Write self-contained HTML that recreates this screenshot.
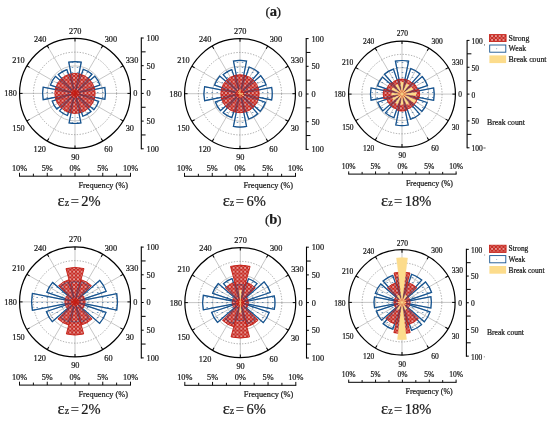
<!DOCTYPE html>
<html><head><meta charset="utf-8"><title>Rose diagrams</title>
<style>
html,body{margin:0;padding:0;background:#fff;}
svg{display:block;}
svg{font-family:"Liberation Serif", serif;font-size:8.3px;}
svg text{fill:#1a1a1a;stroke:#1a1a1a;stroke-width:0.22px;}
</style></head>
<body>
<svg width="550" height="422" viewBox="0 0 550 422">
<defs>
<pattern id="hatch" width="3.8" height="3.8" patternUnits="userSpaceOnUse">
<rect width="3.8" height="3.8" fill="#c41c13" fill-opacity="0.94"/>
<path d="M0.7,0.7L3.1,3.1M3.1,0.7L0.7,3.1" stroke="#fff" stroke-width="0.5" stroke-linecap="round"/>
</pattern>
<pattern id="dots" width="5" height="5" patternUnits="userSpaceOnUse">
<circle cx="2.5" cy="2.5" r="0.6" fill="#17548f"/>
</pattern>
</defs>
<rect width="550" height="422" fill="#fff"/>
<g transform="translate(75 0) scale(1.008 1) translate(-75 0)">
<line x1="75" y1="93.4" x2="130.00" y2="93.40" stroke="#c0c0c0" stroke-width="0.9"/>
<line x1="75" y1="93.4" x2="122.63" y2="120.90" stroke="#c0c0c0" stroke-width="0.9"/>
<line x1="75" y1="93.4" x2="102.50" y2="141.03" stroke="#c0c0c0" stroke-width="0.9"/>
<line x1="75" y1="93.4" x2="75.00" y2="148.40" stroke="#c0c0c0" stroke-width="0.9"/>
<line x1="75" y1="93.4" x2="47.50" y2="141.03" stroke="#c0c0c0" stroke-width="0.9"/>
<line x1="75" y1="93.4" x2="27.37" y2="120.90" stroke="#c0c0c0" stroke-width="0.9"/>
<line x1="75" y1="93.4" x2="20.00" y2="93.40" stroke="#c0c0c0" stroke-width="0.9"/>
<line x1="75" y1="93.4" x2="27.37" y2="65.90" stroke="#c0c0c0" stroke-width="0.9"/>
<line x1="75" y1="93.4" x2="47.50" y2="45.77" stroke="#c0c0c0" stroke-width="0.9"/>
<line x1="75" y1="93.4" x2="75.00" y2="38.40" stroke="#c0c0c0" stroke-width="0.9"/>
<line x1="75" y1="93.4" x2="102.50" y2="45.77" stroke="#c0c0c0" stroke-width="0.9"/>
<line x1="75" y1="93.4" x2="122.63" y2="65.90" stroke="#c0c0c0" stroke-width="0.9"/>
<circle cx="75" cy="93.4" r="27.50" fill="none" stroke="#c0c0c0" stroke-width="0.9"/>
<circle cx="75" cy="93.4" r="13.75" fill="none" stroke="#8a8a8a" stroke-width="0.75" stroke-dasharray="1.3 1.5"/>
<circle cx="75" cy="93.4" r="41.25" fill="none" stroke="#8a8a8a" stroke-width="0.75" stroke-dasharray="1.3 1.5"/>
<path d="M75.00,93.40L104.62,87.51A30.20,30.20 0 0 1 104.62,99.29Z" fill="url(#dots)" stroke="#17548f" stroke-width="1.2" stroke-linejoin="miter"/>
<path d="M75.00,93.40L98.48,101.37A24.80,24.80 0 0 1 93.65,109.75Z" fill="url(#dots)" stroke="#17548f" stroke-width="1.2" stroke-linejoin="miter"/>
<path d="M75.00,93.40L90.89,111.52A24.10,24.10 0 0 1 82.75,116.22Z" fill="url(#dots)" stroke="#17548f" stroke-width="1.2" stroke-linejoin="miter"/>
<path d="M75.00,93.40L80.87,122.92A30.10,30.10 0 0 1 69.13,122.92Z" fill="url(#dots)" stroke="#17548f" stroke-width="1.2" stroke-linejoin="miter"/>
<path d="M75.00,93.40L67.51,115.46A23.30,23.30 0 0 1 59.64,110.92Z" fill="url(#dots)" stroke="#17548f" stroke-width="1.2" stroke-linejoin="miter"/>
<path d="M75.00,93.40L57.03,109.16A23.90,23.90 0 0 1 52.37,101.08Z" fill="url(#dots)" stroke="#17548f" stroke-width="1.2" stroke-linejoin="miter"/>
<path d="M75.00,93.40L43.42,99.68A32.20,32.20 0 0 1 43.42,87.12Z" fill="url(#dots)" stroke="#17548f" stroke-width="1.2" stroke-linejoin="miter"/>
<path d="M75.00,93.40L50.57,85.11A25.80,25.80 0 0 1 55.60,76.39Z" fill="url(#dots)" stroke="#17548f" stroke-width="1.2" stroke-linejoin="miter"/>
<path d="M75.00,93.40L58.45,74.53A25.10,25.10 0 0 1 66.93,69.63Z" fill="url(#dots)" stroke="#17548f" stroke-width="1.2" stroke-linejoin="miter"/>
<path d="M75.00,93.40L68.80,62.21A31.80,31.80 0 0 1 81.20,62.21Z" fill="url(#dots)" stroke="#17548f" stroke-width="1.2" stroke-linejoin="miter"/>
<path d="M75.00,93.40L83.20,69.25A25.50,25.50 0 0 1 91.81,74.23Z" fill="url(#dots)" stroke="#17548f" stroke-width="1.2" stroke-linejoin="miter"/>
<path d="M75.00,93.40L94.62,76.19A26.10,26.10 0 0 1 99.71,85.01Z" fill="url(#dots)" stroke="#17548f" stroke-width="1.2" stroke-linejoin="miter"/>
<path d="M75.00,93.40L94.32,88.22A20.00,20.00 0 0 1 94.32,98.58Z" fill="url(#hatch)" stroke="#c41c13" stroke-width="0.9" stroke-linejoin="round"/>
<path d="M75.00,93.40L94.32,98.58A20.00,20.00 0 0 1 89.14,107.54Z" fill="url(#hatch)" stroke="#c41c13" stroke-width="0.9" stroke-linejoin="round"/>
<path d="M75.00,93.40L89.14,107.54A20.00,20.00 0 0 1 80.18,112.72Z" fill="url(#hatch)" stroke="#c41c13" stroke-width="0.9" stroke-linejoin="round"/>
<path d="M75.00,93.40L80.18,112.72A20.00,20.00 0 0 1 69.82,112.72Z" fill="url(#hatch)" stroke="#c41c13" stroke-width="0.9" stroke-linejoin="round"/>
<path d="M75.00,93.40L69.82,112.72A20.00,20.00 0 0 1 60.86,107.54Z" fill="url(#hatch)" stroke="#c41c13" stroke-width="0.9" stroke-linejoin="round"/>
<path d="M75.00,93.40L60.86,107.54A20.00,20.00 0 0 1 55.68,98.58Z" fill="url(#hatch)" stroke="#c41c13" stroke-width="0.9" stroke-linejoin="round"/>
<path d="M75.00,93.40L55.68,98.58A20.00,20.00 0 0 1 55.68,88.22Z" fill="url(#hatch)" stroke="#c41c13" stroke-width="0.9" stroke-linejoin="round"/>
<path d="M75.00,93.40L55.68,88.22A20.00,20.00 0 0 1 60.86,79.26Z" fill="url(#hatch)" stroke="#c41c13" stroke-width="0.9" stroke-linejoin="round"/>
<path d="M75.00,93.40L60.86,79.26A20.00,20.00 0 0 1 69.82,74.08Z" fill="url(#hatch)" stroke="#c41c13" stroke-width="0.9" stroke-linejoin="round"/>
<path d="M75.00,93.40L69.82,74.08A20.00,20.00 0 0 1 80.18,74.08Z" fill="url(#hatch)" stroke="#c41c13" stroke-width="0.9" stroke-linejoin="round"/>
<path d="M75.00,93.40L80.18,74.08A20.00,20.00 0 0 1 89.14,79.26Z" fill="url(#hatch)" stroke="#c41c13" stroke-width="0.9" stroke-linejoin="round"/>
<path d="M75.00,93.40L89.14,79.26A20.00,20.00 0 0 1 94.32,88.22Z" fill="url(#hatch)" stroke="#c41c13" stroke-width="0.9" stroke-linejoin="round"/>
<path d="M79.41,92.52L104.62,87.51A30.20,30.20 0 0 1 104.62,99.29L79.41,94.28" fill="none" stroke="#17548f" stroke-width="1.1" stroke-opacity="0.42"/>
<path d="M79.26,94.85L98.48,101.37A24.80,24.80 0 0 1 93.65,109.75L78.38,96.37" fill="none" stroke="#17548f" stroke-width="1.1" stroke-opacity="0.42"/>
<path d="M77.97,96.78L90.89,111.52A24.10,24.10 0 0 1 82.75,116.22L76.45,97.66" fill="none" stroke="#17548f" stroke-width="1.1" stroke-opacity="0.42"/>
<path d="M75.88,97.81L80.87,122.92A30.10,30.10 0 0 1 69.13,122.92L74.12,97.81" fill="none" stroke="#17548f" stroke-width="1.1" stroke-opacity="0.42"/>
<path d="M73.55,97.66L67.51,115.46A23.30,23.30 0 0 1 59.64,110.92L72.03,96.78" fill="none" stroke="#17548f" stroke-width="1.1" stroke-opacity="0.42"/>
<path d="M71.62,96.37L57.03,109.16A23.90,23.90 0 0 1 52.37,101.08L70.74,94.85" fill="none" stroke="#17548f" stroke-width="1.1" stroke-opacity="0.42"/>
<path d="M70.59,94.28L43.42,99.68A32.20,32.20 0 0 1 43.42,87.12L70.59,92.52" fill="none" stroke="#17548f" stroke-width="1.1" stroke-opacity="0.42"/>
<path d="M70.74,91.95L50.57,85.11A25.80,25.80 0 0 1 55.60,76.39L71.62,90.43" fill="none" stroke="#17548f" stroke-width="1.1" stroke-opacity="0.42"/>
<path d="M72.03,90.02L58.45,74.53A25.10,25.10 0 0 1 66.93,69.63L73.55,89.14" fill="none" stroke="#17548f" stroke-width="1.1" stroke-opacity="0.42"/>
<path d="M74.12,88.99L68.80,62.21A31.80,31.80 0 0 1 81.20,62.21L75.88,88.99" fill="none" stroke="#17548f" stroke-width="1.1" stroke-opacity="0.42"/>
<path d="M76.45,89.14L83.20,69.25A25.50,25.50 0 0 1 91.81,74.23L77.97,90.02" fill="none" stroke="#17548f" stroke-width="1.1" stroke-opacity="0.42"/>
<path d="M78.38,90.43L94.62,76.19A26.10,26.10 0 0 1 99.71,85.01L79.26,91.95" fill="none" stroke="#17548f" stroke-width="1.1" stroke-opacity="0.42"/>
<circle cx="75" cy="93.4" r="55" fill="none" stroke="#000" stroke-width="1.2"/>
<line x1="130.00" y1="93.40" x2="127.00" y2="93.40" stroke="#000" stroke-width="1"/>
<line x1="122.63" y1="120.90" x2="120.03" y2="119.40" stroke="#000" stroke-width="1"/>
<line x1="102.50" y1="141.03" x2="101.00" y2="138.43" stroke="#000" stroke-width="1"/>
<line x1="75.00" y1="148.40" x2="75.00" y2="145.40" stroke="#000" stroke-width="1"/>
<line x1="47.50" y1="141.03" x2="49.00" y2="138.43" stroke="#000" stroke-width="1"/>
<line x1="27.37" y1="120.90" x2="29.97" y2="119.40" stroke="#000" stroke-width="1"/>
<line x1="20.00" y1="93.40" x2="23.00" y2="93.40" stroke="#000" stroke-width="1"/>
<line x1="27.37" y1="65.90" x2="29.97" y2="67.40" stroke="#000" stroke-width="1"/>
<line x1="47.50" y1="45.77" x2="49.00" y2="48.37" stroke="#000" stroke-width="1"/>
<line x1="75.00" y1="38.40" x2="75.00" y2="41.40" stroke="#000" stroke-width="1"/>
<line x1="102.50" y1="45.77" x2="101.00" y2="48.37" stroke="#000" stroke-width="1"/>
<line x1="122.63" y1="65.90" x2="120.03" y2="67.40" stroke="#000" stroke-width="1"/>
</g>
<text x="75.30" y="33.50" text-anchor="middle">270</text>
<text x="40.20" y="42.00" text-anchor="middle">240</text>
<text x="110.90" y="42.00" text-anchor="middle">300</text>
<text x="18.50" y="62.60" text-anchor="middle">210</text>
<text x="132.10" y="62.60" text-anchor="middle">330</text>
<text x="10.60" y="96.40" text-anchor="middle">180</text>
<text x="135.40" y="96.40" text-anchor="middle">0</text>
<text x="18.50" y="130.70" text-anchor="middle">150</text>
<text x="129.80" y="131.10" text-anchor="middle">30</text>
<text x="39.80" y="152.00" text-anchor="middle">120</text>
<text x="108.40" y="152.00" text-anchor="middle">60</text>
<text x="75.30" y="159.60" text-anchor="middle">90</text>
<line x1="141.3" y1="37.50" x2="141.3" y2="149.30" stroke="#000" stroke-width="1.1"/>
<line x1="141.3" y1="38.00" x2="143.70000000000002" y2="38.00" stroke="#000" stroke-width="1"/>
<text x="146.50" y="40.90">100</text>
<line x1="141.3" y1="51.85" x2="145.60000000000002" y2="51.85" stroke="#000" stroke-width="1"/>
<line x1="141.3" y1="65.70" x2="143.70000000000002" y2="65.70" stroke="#000" stroke-width="1"/>
<text x="146.50" y="68.60">50</text>
<line x1="141.3" y1="79.55" x2="145.60000000000002" y2="79.55" stroke="#000" stroke-width="1"/>
<line x1="141.3" y1="93.40" x2="143.70000000000002" y2="93.40" stroke="#000" stroke-width="1"/>
<text x="146.50" y="96.30">0</text>
<line x1="141.3" y1="107.25" x2="145.60000000000002" y2="107.25" stroke="#000" stroke-width="1"/>
<line x1="141.3" y1="121.10" x2="143.70000000000002" y2="121.10" stroke="#000" stroke-width="1"/>
<text x="146.50" y="124.00">50</text>
<line x1="141.3" y1="134.95" x2="145.60000000000002" y2="134.95" stroke="#000" stroke-width="1"/>
<line x1="141.3" y1="148.80" x2="143.70000000000002" y2="148.80" stroke="#000" stroke-width="1"/>
<text x="146.50" y="151.70">100</text>
<line x1="19.01" y1="176.2" x2="131.00" y2="176.2" stroke="#000" stroke-width="1"/>
<line x1="19.51" y1="176.2" x2="19.51" y2="172.79999999999998" stroke="#000" stroke-width="0.95"/>
<text x="19.51" y="171.20" text-anchor="middle">10%</text>
<line x1="33.38" y1="176.2" x2="33.38" y2="173.7" stroke="#000" stroke-width="0.95"/>
<line x1="47.25" y1="176.2" x2="47.25" y2="172.79999999999998" stroke="#000" stroke-width="0.95"/>
<text x="47.25" y="171.20" text-anchor="middle">5%</text>
<line x1="61.13" y1="176.2" x2="61.13" y2="173.7" stroke="#000" stroke-width="0.95"/>
<line x1="75.00" y1="176.2" x2="75.00" y2="172.79999999999998" stroke="#000" stroke-width="0.95"/>
<text x="75.00" y="171.20" text-anchor="middle">0%</text>
<line x1="88.87" y1="176.2" x2="88.87" y2="173.7" stroke="#000" stroke-width="0.95"/>
<line x1="102.75" y1="176.2" x2="102.75" y2="172.79999999999998" stroke="#000" stroke-width="0.95"/>
<text x="102.75" y="171.20" text-anchor="middle">5%</text>
<line x1="116.62" y1="176.2" x2="116.62" y2="173.7" stroke="#000" stroke-width="0.95"/>
<line x1="130.50" y1="176.2" x2="130.50" y2="172.79999999999998" stroke="#000" stroke-width="0.95"/>
<text x="130.50" y="171.20" text-anchor="middle">10%</text>
<text x="128.00" y="187.90" text-anchor="end" style="font-size:8.3px">Frequency (%)</text>
<g transform="translate(240 0) scale(1.008 1) translate(-240 0)">
<line x1="240" y1="93.7" x2="295.00" y2="93.70" stroke="#c0c0c0" stroke-width="0.9"/>
<line x1="240" y1="93.7" x2="287.63" y2="121.20" stroke="#c0c0c0" stroke-width="0.9"/>
<line x1="240" y1="93.7" x2="267.50" y2="141.33" stroke="#c0c0c0" stroke-width="0.9"/>
<line x1="240" y1="93.7" x2="240.00" y2="148.70" stroke="#c0c0c0" stroke-width="0.9"/>
<line x1="240" y1="93.7" x2="212.50" y2="141.33" stroke="#c0c0c0" stroke-width="0.9"/>
<line x1="240" y1="93.7" x2="192.37" y2="121.20" stroke="#c0c0c0" stroke-width="0.9"/>
<line x1="240" y1="93.7" x2="185.00" y2="93.70" stroke="#c0c0c0" stroke-width="0.9"/>
<line x1="240" y1="93.7" x2="192.37" y2="66.20" stroke="#c0c0c0" stroke-width="0.9"/>
<line x1="240" y1="93.7" x2="212.50" y2="46.07" stroke="#c0c0c0" stroke-width="0.9"/>
<line x1="240" y1="93.7" x2="240.00" y2="38.70" stroke="#c0c0c0" stroke-width="0.9"/>
<line x1="240" y1="93.7" x2="267.50" y2="46.07" stroke="#c0c0c0" stroke-width="0.9"/>
<line x1="240" y1="93.7" x2="287.63" y2="66.20" stroke="#c0c0c0" stroke-width="0.9"/>
<circle cx="240" cy="93.7" r="27.50" fill="none" stroke="#c0c0c0" stroke-width="0.9"/>
<circle cx="240" cy="93.7" r="13.75" fill="none" stroke="#8a8a8a" stroke-width="0.75" stroke-dasharray="1.3 1.5"/>
<circle cx="240" cy="93.7" r="41.25" fill="none" stroke="#8a8a8a" stroke-width="0.75" stroke-dasharray="1.3 1.5"/>
<path d="M240.00,93.70L271.39,87.46A32.00,32.00 0 0 1 271.39,99.94Z" fill="url(#dots)" stroke="#17548f" stroke-width="1.2" stroke-linejoin="miter"/>
<path d="M240.00,93.70L265.28,102.28A26.70,26.70 0 0 1 260.07,111.30Z" fill="url(#dots)" stroke="#17548f" stroke-width="1.2" stroke-linejoin="miter"/>
<path d="M240.00,93.70L257.60,113.77A26.70,26.70 0 0 1 248.58,118.98Z" fill="url(#dots)" stroke="#17548f" stroke-width="1.2" stroke-linejoin="miter"/>
<path d="M240.00,93.70L246.52,126.46A33.40,33.40 0 0 1 233.48,126.46Z" fill="url(#dots)" stroke="#17548f" stroke-width="1.2" stroke-linejoin="miter"/>
<path d="M240.00,93.70L231.87,117.66A25.30,25.30 0 0 1 223.32,112.72Z" fill="url(#dots)" stroke="#17548f" stroke-width="1.2" stroke-linejoin="miter"/>
<path d="M240.00,93.70L220.60,110.71A25.80,25.80 0 0 1 215.57,101.99Z" fill="url(#dots)" stroke="#17548f" stroke-width="1.2" stroke-linejoin="miter"/>
<path d="M240.00,93.70L204.89,100.68A35.80,35.80 0 0 1 204.89,86.72Z" fill="url(#dots)" stroke="#17548f" stroke-width="1.2" stroke-linejoin="miter"/>
<path d="M240.00,93.70L214.72,85.12A26.70,26.70 0 0 1 219.93,76.10Z" fill="url(#dots)" stroke="#17548f" stroke-width="1.2" stroke-linejoin="miter"/>
<path d="M240.00,93.70L223.25,74.60A25.40,25.40 0 0 1 231.84,69.65Z" fill="url(#dots)" stroke="#17548f" stroke-width="1.2" stroke-linejoin="miter"/>
<path d="M240.00,93.70L233.50,61.04A33.30,33.30 0 0 1 246.50,61.04Z" fill="url(#dots)" stroke="#17548f" stroke-width="1.2" stroke-linejoin="miter"/>
<path d="M240.00,93.70L249.06,67.00A28.20,28.20 0 0 1 258.59,72.50Z" fill="url(#dots)" stroke="#17548f" stroke-width="1.2" stroke-linejoin="miter"/>
<path d="M240.00,93.70L260.53,75.70A27.30,27.30 0 0 1 265.85,84.92Z" fill="url(#dots)" stroke="#17548f" stroke-width="1.2" stroke-linejoin="miter"/>
<path d="M240.00,93.70L258.35,88.78A19.00,19.00 0 0 1 258.35,98.62Z" fill="url(#hatch)" stroke="#c41c13" stroke-width="0.9" stroke-linejoin="round"/>
<path d="M240.00,93.70L258.35,98.62A19.00,19.00 0 0 1 253.44,107.14Z" fill="url(#hatch)" stroke="#c41c13" stroke-width="0.9" stroke-linejoin="round"/>
<path d="M240.00,93.70L253.44,107.14A19.00,19.00 0 0 1 244.92,112.05Z" fill="url(#hatch)" stroke="#c41c13" stroke-width="0.9" stroke-linejoin="round"/>
<path d="M240.00,93.70L244.92,112.05A19.00,19.00 0 0 1 235.08,112.05Z" fill="url(#hatch)" stroke="#c41c13" stroke-width="0.9" stroke-linejoin="round"/>
<path d="M240.00,93.70L235.08,112.05A19.00,19.00 0 0 1 226.56,107.14Z" fill="url(#hatch)" stroke="#c41c13" stroke-width="0.9" stroke-linejoin="round"/>
<path d="M240.00,93.70L226.56,107.14A19.00,19.00 0 0 1 221.65,98.62Z" fill="url(#hatch)" stroke="#c41c13" stroke-width="0.9" stroke-linejoin="round"/>
<path d="M240.00,93.70L221.65,98.62A19.00,19.00 0 0 1 221.65,88.78Z" fill="url(#hatch)" stroke="#c41c13" stroke-width="0.9" stroke-linejoin="round"/>
<path d="M240.00,93.70L221.65,88.78A19.00,19.00 0 0 1 226.56,80.26Z" fill="url(#hatch)" stroke="#c41c13" stroke-width="0.9" stroke-linejoin="round"/>
<path d="M240.00,93.70L226.56,80.26A19.00,19.00 0 0 1 235.08,75.35Z" fill="url(#hatch)" stroke="#c41c13" stroke-width="0.9" stroke-linejoin="round"/>
<path d="M240.00,93.70L235.08,75.35A19.00,19.00 0 0 1 244.92,75.35Z" fill="url(#hatch)" stroke="#c41c13" stroke-width="0.9" stroke-linejoin="round"/>
<path d="M240.00,93.70L244.92,75.35A19.00,19.00 0 0 1 253.44,80.26Z" fill="url(#hatch)" stroke="#c41c13" stroke-width="0.9" stroke-linejoin="round"/>
<path d="M240.00,93.70L253.44,80.26A19.00,19.00 0 0 1 258.35,88.78Z" fill="url(#hatch)" stroke="#c41c13" stroke-width="0.9" stroke-linejoin="round"/>
<path d="M244.41,92.82L271.39,87.46A32.00,32.00 0 0 1 271.39,99.94L244.41,94.58" fill="none" stroke="#17548f" stroke-width="1.1" stroke-opacity="0.42"/>
<path d="M244.26,95.15L265.28,102.28A26.70,26.70 0 0 1 260.07,111.30L243.38,96.67" fill="none" stroke="#17548f" stroke-width="1.1" stroke-opacity="0.42"/>
<path d="M242.97,97.08L257.60,113.77A26.70,26.70 0 0 1 248.58,118.98L241.45,97.96" fill="none" stroke="#17548f" stroke-width="1.1" stroke-opacity="0.42"/>
<path d="M240.88,98.11L246.52,126.46A33.40,33.40 0 0 1 233.48,126.46L239.12,98.11" fill="none" stroke="#17548f" stroke-width="1.1" stroke-opacity="0.42"/>
<path d="M238.55,97.96L231.87,117.66A25.30,25.30 0 0 1 223.32,112.72L237.03,97.08" fill="none" stroke="#17548f" stroke-width="1.1" stroke-opacity="0.42"/>
<path d="M236.62,96.67L220.60,110.71A25.80,25.80 0 0 1 215.57,101.99L235.74,95.15" fill="none" stroke="#17548f" stroke-width="1.1" stroke-opacity="0.42"/>
<path d="M235.59,94.58L204.89,100.68A35.80,35.80 0 0 1 204.89,86.72L235.59,92.82" fill="none" stroke="#17548f" stroke-width="1.1" stroke-opacity="0.42"/>
<path d="M235.74,92.25L214.72,85.12A26.70,26.70 0 0 1 219.93,76.10L236.62,90.73" fill="none" stroke="#17548f" stroke-width="1.1" stroke-opacity="0.42"/>
<path d="M237.03,90.32L223.25,74.60A25.40,25.40 0 0 1 231.84,69.65L238.55,89.44" fill="none" stroke="#17548f" stroke-width="1.1" stroke-opacity="0.42"/>
<path d="M239.12,89.29L233.50,61.04A33.30,33.30 0 0 1 246.50,61.04L240.88,89.29" fill="none" stroke="#17548f" stroke-width="1.1" stroke-opacity="0.42"/>
<path d="M241.45,89.44L249.06,67.00A28.20,28.20 0 0 1 258.59,72.50L242.97,90.32" fill="none" stroke="#17548f" stroke-width="1.1" stroke-opacity="0.42"/>
<path d="M243.38,90.73L260.53,75.70A27.30,27.30 0 0 1 265.85,84.92L244.26,92.25" fill="none" stroke="#17548f" stroke-width="1.1" stroke-opacity="0.42"/>
<path d="M240.00,93.70L242.98,93.35A3.00,3.00 0 0 1 242.98,94.05Z" fill="#fcdc8c" stroke="#fcdc8c" stroke-width="0.3"/>
<path d="M240.00,93.70L243.68,95.28A4.00,4.00 0 0 1 243.21,96.09Z" fill="#fcdc8c" stroke="#fcdc8c" stroke-width="0.3"/>
<path d="M240.00,93.70L240.35,96.68A3.00,3.00 0 0 1 239.65,96.68Z" fill="#fcdc8c" stroke="#fcdc8c" stroke-width="0.3"/>
<path d="M240.00,93.70L238.01,93.94A2.00,2.00 0 0 1 238.01,93.46Z" fill="#fcdc8c" stroke="#fcdc8c" stroke-width="0.3"/>
<path d="M240.00,93.70L238.21,91.30A3.00,3.00 0 0 1 238.82,90.94Z" fill="#fcdc8c" stroke="#fcdc8c" stroke-width="0.3"/>
<path d="M240.00,93.70L239.53,89.73A4.00,4.00 0 0 1 240.47,89.73Z" fill="#fcdc8c" stroke="#fcdc8c" stroke-width="0.3"/>
<circle cx="240" cy="93.7" r="55" fill="none" stroke="#000" stroke-width="1.2"/>
<line x1="295.00" y1="93.70" x2="292.00" y2="93.70" stroke="#000" stroke-width="1"/>
<line x1="287.63" y1="121.20" x2="285.03" y2="119.70" stroke="#000" stroke-width="1"/>
<line x1="267.50" y1="141.33" x2="266.00" y2="138.73" stroke="#000" stroke-width="1"/>
<line x1="240.00" y1="148.70" x2="240.00" y2="145.70" stroke="#000" stroke-width="1"/>
<line x1="212.50" y1="141.33" x2="214.00" y2="138.73" stroke="#000" stroke-width="1"/>
<line x1="192.37" y1="121.20" x2="194.97" y2="119.70" stroke="#000" stroke-width="1"/>
<line x1="185.00" y1="93.70" x2="188.00" y2="93.70" stroke="#000" stroke-width="1"/>
<line x1="192.37" y1="66.20" x2="194.97" y2="67.70" stroke="#000" stroke-width="1"/>
<line x1="212.50" y1="46.07" x2="214.00" y2="48.67" stroke="#000" stroke-width="1"/>
<line x1="240.00" y1="38.70" x2="240.00" y2="41.70" stroke="#000" stroke-width="1"/>
<line x1="267.50" y1="46.07" x2="266.00" y2="48.67" stroke="#000" stroke-width="1"/>
<line x1="287.63" y1="66.20" x2="285.03" y2="67.70" stroke="#000" stroke-width="1"/>
</g>
<text x="240.30" y="33.80" text-anchor="middle">270</text>
<text x="205.20" y="42.30" text-anchor="middle">240</text>
<text x="275.90" y="42.30" text-anchor="middle">300</text>
<text x="183.50" y="62.90" text-anchor="middle">210</text>
<text x="297.10" y="62.90" text-anchor="middle">330</text>
<text x="175.60" y="96.70" text-anchor="middle">180</text>
<text x="300.40" y="96.70" text-anchor="middle">0</text>
<text x="183.50" y="131.00" text-anchor="middle">150</text>
<text x="294.80" y="131.40" text-anchor="middle">30</text>
<text x="204.80" y="152.10" text-anchor="middle">120</text>
<text x="273.40" y="152.10" text-anchor="middle">60</text>
<text x="240.30" y="159.70" text-anchor="middle">90</text>
<line x1="306.2" y1="38.10" x2="306.2" y2="149.90" stroke="#000" stroke-width="1.1"/>
<line x1="306.2" y1="38.60" x2="308.59999999999997" y2="38.60" stroke="#000" stroke-width="1"/>
<text x="311.40" y="41.50">100</text>
<line x1="306.2" y1="52.45" x2="310.5" y2="52.45" stroke="#000" stroke-width="1"/>
<line x1="306.2" y1="66.30" x2="308.59999999999997" y2="66.30" stroke="#000" stroke-width="1"/>
<text x="311.40" y="69.20">50</text>
<line x1="306.2" y1="80.15" x2="310.5" y2="80.15" stroke="#000" stroke-width="1"/>
<line x1="306.2" y1="94.00" x2="308.59999999999997" y2="94.00" stroke="#000" stroke-width="1"/>
<text x="311.40" y="96.90">0</text>
<line x1="306.2" y1="107.85" x2="310.5" y2="107.85" stroke="#000" stroke-width="1"/>
<line x1="306.2" y1="121.70" x2="308.59999999999997" y2="121.70" stroke="#000" stroke-width="1"/>
<text x="311.40" y="124.60">50</text>
<line x1="306.2" y1="135.55" x2="310.5" y2="135.55" stroke="#000" stroke-width="1"/>
<line x1="306.2" y1="149.40" x2="308.59999999999997" y2="149.40" stroke="#000" stroke-width="1"/>
<text x="311.40" y="152.30">100</text>
<line x1="184.00" y1="176.3" x2="296.00" y2="176.3" stroke="#000" stroke-width="1"/>
<line x1="184.50" y1="176.3" x2="184.50" y2="172.9" stroke="#000" stroke-width="0.95"/>
<text x="184.50" y="171.30" text-anchor="middle">10%</text>
<line x1="198.38" y1="176.3" x2="198.38" y2="173.8" stroke="#000" stroke-width="0.95"/>
<line x1="212.25" y1="176.3" x2="212.25" y2="172.9" stroke="#000" stroke-width="0.95"/>
<text x="212.25" y="171.30" text-anchor="middle">5%</text>
<line x1="226.13" y1="176.3" x2="226.13" y2="173.8" stroke="#000" stroke-width="0.95"/>
<line x1="240.00" y1="176.3" x2="240.00" y2="172.9" stroke="#000" stroke-width="0.95"/>
<text x="240.00" y="171.30" text-anchor="middle">0%</text>
<line x1="253.87" y1="176.3" x2="253.87" y2="173.8" stroke="#000" stroke-width="0.95"/>
<line x1="267.75" y1="176.3" x2="267.75" y2="172.9" stroke="#000" stroke-width="0.95"/>
<text x="267.75" y="171.30" text-anchor="middle">5%</text>
<line x1="281.62" y1="176.3" x2="281.62" y2="173.8" stroke="#000" stroke-width="0.95"/>
<line x1="295.50" y1="176.3" x2="295.50" y2="172.9" stroke="#000" stroke-width="0.95"/>
<text x="295.50" y="171.30" text-anchor="middle">10%</text>
<text x="293.00" y="188.00" text-anchor="end" style="font-size:8.3px">Frequency (%)</text>
<g style="font-size:7.5px">
<g transform="translate(402 0) scale(1.008 1) translate(-402 0)">
<line x1="402" y1="94.1" x2="455.00" y2="94.10" stroke="#c0c0c0" stroke-width="0.9"/>
<line x1="402" y1="94.1" x2="447.90" y2="120.60" stroke="#c0c0c0" stroke-width="0.9"/>
<line x1="402" y1="94.1" x2="428.50" y2="140.00" stroke="#c0c0c0" stroke-width="0.9"/>
<line x1="402" y1="94.1" x2="402.00" y2="147.10" stroke="#c0c0c0" stroke-width="0.9"/>
<line x1="402" y1="94.1" x2="375.50" y2="140.00" stroke="#c0c0c0" stroke-width="0.9"/>
<line x1="402" y1="94.1" x2="356.10" y2="120.60" stroke="#c0c0c0" stroke-width="0.9"/>
<line x1="402" y1="94.1" x2="349.00" y2="94.10" stroke="#c0c0c0" stroke-width="0.9"/>
<line x1="402" y1="94.1" x2="356.10" y2="67.60" stroke="#c0c0c0" stroke-width="0.9"/>
<line x1="402" y1="94.1" x2="375.50" y2="48.20" stroke="#c0c0c0" stroke-width="0.9"/>
<line x1="402" y1="94.1" x2="402.00" y2="41.10" stroke="#c0c0c0" stroke-width="0.9"/>
<line x1="402" y1="94.1" x2="428.50" y2="48.20" stroke="#c0c0c0" stroke-width="0.9"/>
<line x1="402" y1="94.1" x2="447.90" y2="67.60" stroke="#c0c0c0" stroke-width="0.9"/>
<circle cx="402" cy="94.1" r="26.50" fill="none" stroke="#c0c0c0" stroke-width="0.9"/>
<circle cx="402" cy="94.1" r="13.25" fill="none" stroke="#8a8a8a" stroke-width="0.75" stroke-dasharray="1.3 1.5"/>
<circle cx="402" cy="94.1" r="39.75" fill="none" stroke="#8a8a8a" stroke-width="0.75" stroke-dasharray="1.3 1.5"/>
<path d="M402.00,94.10L433.39,87.86A32.00,32.00 0 0 1 433.39,100.34Z" fill="url(#dots)" stroke="#17548f" stroke-width="1.2" stroke-linejoin="miter"/>
<path d="M402.00,94.10L426.90,102.55A26.30,26.30 0 0 1 421.77,111.44Z" fill="url(#dots)" stroke="#17548f" stroke-width="1.2" stroke-linejoin="miter"/>
<path d="M402.00,94.10L419.54,114.10A26.60,26.60 0 0 1 410.55,119.29Z" fill="url(#dots)" stroke="#17548f" stroke-width="1.2" stroke-linejoin="miter"/>
<path d="M402.00,94.10L408.15,124.99A31.50,31.50 0 0 1 395.85,124.99Z" fill="url(#dots)" stroke="#17548f" stroke-width="1.2" stroke-linejoin="miter"/>
<path d="M402.00,94.10L393.96,117.77A25.00,25.00 0 0 1 385.52,112.90Z" fill="url(#dots)" stroke="#17548f" stroke-width="1.2" stroke-linejoin="miter"/>
<path d="M402.00,94.10L382.90,110.85A25.40,25.40 0 0 1 377.95,102.26Z" fill="url(#dots)" stroke="#17548f" stroke-width="1.2" stroke-linejoin="miter"/>
<path d="M402.00,94.10L371.30,100.21A31.30,31.30 0 0 1 371.30,87.99Z" fill="url(#dots)" stroke="#17548f" stroke-width="1.2" stroke-linejoin="miter"/>
<path d="M402.00,94.10L377.66,85.84A25.70,25.70 0 0 1 382.68,77.15Z" fill="url(#dots)" stroke="#17548f" stroke-width="1.2" stroke-linejoin="miter"/>
<path d="M402.00,94.10L384.59,74.25A26.40,26.40 0 0 1 393.51,69.10Z" fill="url(#dots)" stroke="#17548f" stroke-width="1.2" stroke-linejoin="miter"/>
<path d="M402.00,94.10L395.44,61.15A33.60,33.60 0 0 1 408.56,61.15Z" fill="url(#dots)" stroke="#17548f" stroke-width="1.2" stroke-linejoin="miter"/>
<path d="M402.00,94.10L410.68,68.53A27.00,27.00 0 0 1 419.80,73.80Z" fill="url(#dots)" stroke="#17548f" stroke-width="1.2" stroke-linejoin="miter"/>
<path d="M402.00,94.10L422.07,76.50A26.70,26.70 0 0 1 427.28,85.52Z" fill="url(#dots)" stroke="#17548f" stroke-width="1.2" stroke-linejoin="miter"/>
<path d="M402.00,94.10L418.90,89.57A17.50,17.50 0 0 1 418.90,98.63Z" fill="url(#hatch)" stroke="#c41c13" stroke-width="0.9" stroke-linejoin="round"/>
<path d="M402.00,94.10L417.45,98.24A16.00,16.00 0 0 1 413.31,105.41Z" fill="url(#hatch)" stroke="#c41c13" stroke-width="0.9" stroke-linejoin="round"/>
<path d="M402.00,94.10L413.31,105.41A16.00,16.00 0 0 1 406.14,109.55Z" fill="url(#hatch)" stroke="#c41c13" stroke-width="0.9" stroke-linejoin="round"/>
<path d="M402.00,94.10L406.40,110.52A17.00,17.00 0 0 1 397.60,110.52Z" fill="url(#hatch)" stroke="#c41c13" stroke-width="0.9" stroke-linejoin="round"/>
<path d="M402.00,94.10L397.86,109.55A16.00,16.00 0 0 1 390.69,105.41Z" fill="url(#hatch)" stroke="#c41c13" stroke-width="0.9" stroke-linejoin="round"/>
<path d="M402.00,94.10L390.69,105.41A16.00,16.00 0 0 1 386.55,98.24Z" fill="url(#hatch)" stroke="#c41c13" stroke-width="0.9" stroke-linejoin="round"/>
<path d="M402.00,94.10L384.03,98.91A18.60,18.60 0 0 1 384.03,89.29Z" fill="url(#hatch)" stroke="#c41c13" stroke-width="0.9" stroke-linejoin="round"/>
<path d="M402.00,94.10L386.55,89.96A16.00,16.00 0 0 1 390.69,82.79Z" fill="url(#hatch)" stroke="#c41c13" stroke-width="0.9" stroke-linejoin="round"/>
<path d="M402.00,94.10L391.39,83.49A15.00,15.00 0 0 1 398.12,79.61Z" fill="url(#hatch)" stroke="#c41c13" stroke-width="0.9" stroke-linejoin="round"/>
<path d="M402.00,94.10L398.12,79.61A15.00,15.00 0 0 1 405.88,79.61Z" fill="url(#hatch)" stroke="#c41c13" stroke-width="0.9" stroke-linejoin="round"/>
<path d="M402.00,94.10L405.88,79.61A15.00,15.00 0 0 1 412.61,83.49Z" fill="url(#hatch)" stroke="#c41c13" stroke-width="0.9" stroke-linejoin="round"/>
<path d="M402.00,94.10L413.31,82.79A16.00,16.00 0 0 1 417.45,89.96Z" fill="url(#hatch)" stroke="#c41c13" stroke-width="0.9" stroke-linejoin="round"/>
<path d="M406.41,93.22L433.39,87.86A32.00,32.00 0 0 1 433.39,100.34L406.41,94.98" fill="none" stroke="#17548f" stroke-width="1.1" stroke-opacity="0.42"/>
<path d="M406.26,95.55L426.90,102.55A26.30,26.30 0 0 1 421.77,111.44L405.38,97.07" fill="none" stroke="#17548f" stroke-width="1.1" stroke-opacity="0.42"/>
<path d="M404.97,97.48L419.54,114.10A26.60,26.60 0 0 1 410.55,119.29L403.45,98.36" fill="none" stroke="#17548f" stroke-width="1.1" stroke-opacity="0.42"/>
<path d="M402.88,98.51L408.15,124.99A31.50,31.50 0 0 1 395.85,124.99L401.12,98.51" fill="none" stroke="#17548f" stroke-width="1.1" stroke-opacity="0.42"/>
<path d="M400.55,98.36L393.96,117.77A25.00,25.00 0 0 1 385.52,112.90L399.03,97.48" fill="none" stroke="#17548f" stroke-width="1.1" stroke-opacity="0.42"/>
<path d="M398.62,97.07L382.90,110.85A25.40,25.40 0 0 1 377.95,102.26L397.74,95.55" fill="none" stroke="#17548f" stroke-width="1.1" stroke-opacity="0.42"/>
<path d="M397.59,94.98L371.30,100.21A31.30,31.30 0 0 1 371.30,87.99L397.59,93.22" fill="none" stroke="#17548f" stroke-width="1.1" stroke-opacity="0.42"/>
<path d="M397.74,92.65L377.66,85.84A25.70,25.70 0 0 1 382.68,77.15L398.62,91.13" fill="none" stroke="#17548f" stroke-width="1.1" stroke-opacity="0.42"/>
<path d="M399.03,90.72L384.59,74.25A26.40,26.40 0 0 1 393.51,69.10L400.55,89.84" fill="none" stroke="#17548f" stroke-width="1.1" stroke-opacity="0.42"/>
<path d="M401.12,89.69L395.44,61.15A33.60,33.60 0 0 1 408.56,61.15L402.88,89.69" fill="none" stroke="#17548f" stroke-width="1.1" stroke-opacity="0.42"/>
<path d="M403.45,89.84L410.68,68.53A27.00,27.00 0 0 1 419.80,73.80L404.97,90.72" fill="none" stroke="#17548f" stroke-width="1.1" stroke-opacity="0.42"/>
<path d="M405.38,91.13L422.07,76.50A26.70,26.70 0 0 1 427.28,85.52L406.26,92.65" fill="none" stroke="#17548f" stroke-width="1.1" stroke-opacity="0.42"/>
<path d="M402.00,94.10L415.90,92.45A14.00,14.00 0 0 1 415.90,95.75Z" fill="#fcdc8c" stroke="#fcdc8c" stroke-width="0.3"/>
<path d="M402.00,94.10L415.78,100.02A15.00,15.00 0 0 1 414.02,103.07Z" fill="#fcdc8c" stroke="#fcdc8c" stroke-width="0.3"/>
<path d="M402.00,94.10L408.82,103.23A11.40,11.40 0 0 1 406.50,104.57Z" fill="#fcdc8c" stroke="#fcdc8c" stroke-width="0.3"/>
<path d="M402.00,94.10L403.22,104.43A10.40,10.40 0 0 1 400.78,104.43Z" fill="#fcdc8c" stroke="#fcdc8c" stroke-width="0.3"/>
<path d="M402.00,94.10L397.74,104.02A10.80,10.80 0 0 1 395.54,102.75Z" fill="#fcdc8c" stroke="#fcdc8c" stroke-width="0.3"/>
<path d="M402.00,94.10L393.67,100.32A10.40,10.40 0 0 1 392.44,98.21Z" fill="#fcdc8c" stroke="#fcdc8c" stroke-width="0.3"/>
<path d="M402.00,94.10L391.77,95.31A10.30,10.30 0 0 1 391.77,92.89Z" fill="#fcdc8c" stroke="#fcdc8c" stroke-width="0.3"/>
<path d="M402.00,94.10L391.71,89.68A11.20,11.20 0 0 1 393.03,87.40Z" fill="#fcdc8c" stroke="#fcdc8c" stroke-width="0.3"/>
<path d="M402.00,94.10L395.60,85.53A10.70,10.70 0 0 1 397.78,84.27Z" fill="#fcdc8c" stroke="#fcdc8c" stroke-width="0.3"/>
<path d="M402.00,94.10L400.59,82.18A12.00,12.00 0 0 1 403.41,82.18Z" fill="#fcdc8c" stroke="#fcdc8c" stroke-width="0.3"/>
<path d="M402.00,94.10L406.50,83.63A11.40,11.40 0 0 1 408.82,84.97Z" fill="#fcdc8c" stroke="#fcdc8c" stroke-width="0.3"/>
<path d="M402.00,94.10L411.45,87.04A11.80,11.80 0 0 1 412.84,89.44Z" fill="#fcdc8c" stroke="#fcdc8c" stroke-width="0.3"/>
<circle cx="402" cy="94.1" r="53" fill="none" stroke="#000" stroke-width="1.2"/>
<line x1="455.00" y1="94.10" x2="452.00" y2="94.10" stroke="#000" stroke-width="1"/>
<line x1="447.90" y1="120.60" x2="445.30" y2="119.10" stroke="#000" stroke-width="1"/>
<line x1="428.50" y1="140.00" x2="427.00" y2="137.40" stroke="#000" stroke-width="1"/>
<line x1="402.00" y1="147.10" x2="402.00" y2="144.10" stroke="#000" stroke-width="1"/>
<line x1="375.50" y1="140.00" x2="377.00" y2="137.40" stroke="#000" stroke-width="1"/>
<line x1="356.10" y1="120.60" x2="358.70" y2="119.10" stroke="#000" stroke-width="1"/>
<line x1="349.00" y1="94.10" x2="352.00" y2="94.10" stroke="#000" stroke-width="1"/>
<line x1="356.10" y1="67.60" x2="358.70" y2="69.10" stroke="#000" stroke-width="1"/>
<line x1="375.50" y1="48.20" x2="377.00" y2="50.80" stroke="#000" stroke-width="1"/>
<line x1="402.00" y1="41.10" x2="402.00" y2="44.10" stroke="#000" stroke-width="1"/>
<line x1="428.50" y1="48.20" x2="427.00" y2="50.80" stroke="#000" stroke-width="1"/>
<line x1="447.90" y1="67.60" x2="445.30" y2="69.10" stroke="#000" stroke-width="1"/>
</g>
<text x="402.29" y="36.48" text-anchor="middle">270</text>
<text x="368.57" y="44.07" text-anchor="middle">240</text>
<text x="437.09" y="44.17" text-anchor="middle">300</text>
<text x="347.55" y="64.72" text-anchor="middle">210</text>
<text x="457.62" y="64.92" text-anchor="middle">330</text>
<text x="339.94" y="97.09" text-anchor="middle">180</text>
<text x="460.20" y="97.09" text-anchor="middle">0</text>
<text x="347.75" y="129.74" text-anchor="middle">150</text>
<text x="455.41" y="130.03" text-anchor="middle">30</text>
<text x="368.58" y="150.59" text-anchor="middle">120</text>
<text x="434.89" y="150.59" text-anchor="middle">60</text>
<text x="402.29" y="157.91" text-anchor="middle">90</text>
<line x1="467.1" y1="39.90" x2="467.1" y2="148.30" stroke="#000" stroke-width="1.1"/>
<line x1="467.1" y1="40.40" x2="469.5" y2="40.40" stroke="#000" stroke-width="1"/>
<text x="471.60" y="43.80">100</text>
<line x1="467.1" y1="53.82" x2="471.40000000000003" y2="53.82" stroke="#000" stroke-width="1"/>
<line x1="467.1" y1="67.25" x2="469.5" y2="67.25" stroke="#000" stroke-width="1"/>
<text x="471.60" y="70.65">50</text>
<line x1="467.1" y1="80.67" x2="471.40000000000003" y2="80.67" stroke="#000" stroke-width="1"/>
<line x1="467.1" y1="94.10" x2="469.5" y2="94.10" stroke="#000" stroke-width="1"/>
<text x="471.60" y="97.50">0</text>
<line x1="467.1" y1="107.52" x2="471.40000000000003" y2="107.52" stroke="#000" stroke-width="1"/>
<line x1="467.1" y1="120.95" x2="469.5" y2="120.95" stroke="#000" stroke-width="1"/>
<text x="471.60" y="124.35">50</text>
<line x1="467.1" y1="134.38" x2="471.40000000000003" y2="134.38" stroke="#000" stroke-width="1"/>
<line x1="467.1" y1="147.80" x2="469.5" y2="147.80" stroke="#000" stroke-width="1"/>
<text x="471.60" y="151.20">100</text>
<line x1="348.20" y1="174.1" x2="456.60" y2="174.1" stroke="#000" stroke-width="1"/>
<line x1="348.70" y1="174.1" x2="348.70" y2="171.4" stroke="#000" stroke-width="0.95"/>
<text x="348.70" y="168.70" text-anchor="middle">10%</text>
<line x1="362.12" y1="174.1" x2="362.12" y2="171.9" stroke="#000" stroke-width="0.95"/>
<line x1="375.55" y1="174.1" x2="375.55" y2="171.4" stroke="#000" stroke-width="0.95"/>
<text x="375.55" y="168.70" text-anchor="middle">5%</text>
<line x1="388.98" y1="174.1" x2="388.98" y2="171.9" stroke="#000" stroke-width="0.95"/>
<line x1="402.40" y1="174.1" x2="402.40" y2="171.4" stroke="#000" stroke-width="0.95"/>
<text x="402.40" y="168.70" text-anchor="middle">0%</text>
<line x1="415.82" y1="174.1" x2="415.82" y2="171.9" stroke="#000" stroke-width="0.95"/>
<line x1="429.25" y1="174.1" x2="429.25" y2="171.4" stroke="#000" stroke-width="0.95"/>
<text x="429.25" y="168.70" text-anchor="middle">5%</text>
<line x1="442.68" y1="174.1" x2="442.68" y2="171.9" stroke="#000" stroke-width="0.95"/>
<line x1="456.10" y1="174.1" x2="456.10" y2="171.4" stroke="#000" stroke-width="0.95"/>
<text x="456.10" y="168.70" text-anchor="middle">10%</text>
<text x="453.00" y="185.80" text-anchor="end" style="font-size:7.9px">Frequency (%)</text>
</g>
<g transform="translate(75 0) scale(1.008 1) translate(-75 0)">
<line x1="75" y1="301.9" x2="130.00" y2="301.90" stroke="#c0c0c0" stroke-width="0.9"/>
<line x1="75" y1="301.9" x2="122.63" y2="329.40" stroke="#c0c0c0" stroke-width="0.9"/>
<line x1="75" y1="301.9" x2="102.50" y2="349.53" stroke="#c0c0c0" stroke-width="0.9"/>
<line x1="75" y1="301.9" x2="75.00" y2="356.90" stroke="#c0c0c0" stroke-width="0.9"/>
<line x1="75" y1="301.9" x2="47.50" y2="349.53" stroke="#c0c0c0" stroke-width="0.9"/>
<line x1="75" y1="301.9" x2="27.37" y2="329.40" stroke="#c0c0c0" stroke-width="0.9"/>
<line x1="75" y1="301.9" x2="20.00" y2="301.90" stroke="#c0c0c0" stroke-width="0.9"/>
<line x1="75" y1="301.9" x2="27.37" y2="274.40" stroke="#c0c0c0" stroke-width="0.9"/>
<line x1="75" y1="301.9" x2="47.50" y2="254.27" stroke="#c0c0c0" stroke-width="0.9"/>
<line x1="75" y1="301.9" x2="75.00" y2="246.90" stroke="#c0c0c0" stroke-width="0.9"/>
<line x1="75" y1="301.9" x2="102.50" y2="254.27" stroke="#c0c0c0" stroke-width="0.9"/>
<line x1="75" y1="301.9" x2="122.63" y2="274.40" stroke="#c0c0c0" stroke-width="0.9"/>
<circle cx="75" cy="301.9" r="27.50" fill="none" stroke="#c0c0c0" stroke-width="0.9"/>
<circle cx="75" cy="301.9" r="13.75" fill="none" stroke="#8a8a8a" stroke-width="0.75" stroke-dasharray="1.3 1.5"/>
<circle cx="75" cy="301.9" r="41.25" fill="none" stroke="#8a8a8a" stroke-width="0.75" stroke-dasharray="1.3 1.5"/>
<path d="M75.00,301.90L116.39,293.67A42.20,42.20 0 0 1 116.39,310.13Z" fill="url(#dots)" stroke="#17548f" stroke-width="1.2" stroke-linejoin="miter"/>
<path d="M75.00,301.90L105.78,312.35A32.50,32.50 0 0 1 99.43,323.33Z" fill="url(#dots)" stroke="#17548f" stroke-width="1.2" stroke-linejoin="miter"/>
<path d="M75.00,301.90L88.85,317.69A21.00,21.00 0 0 1 81.75,321.79Z" fill="url(#dots)" stroke="#17548f" stroke-width="1.2" stroke-linejoin="miter"/>
<path d="M75.00,301.90L78.90,321.52A20.00,20.00 0 0 1 71.10,321.52Z" fill="url(#dots)" stroke="#17548f" stroke-width="1.2" stroke-linejoin="miter"/>
<path d="M75.00,301.90L68.25,321.79A21.00,21.00 0 0 1 61.15,317.69Z" fill="url(#dots)" stroke="#17548f" stroke-width="1.2" stroke-linejoin="miter"/>
<path d="M75.00,301.90L52.44,321.68A30.00,30.00 0 0 1 46.59,311.54Z" fill="url(#dots)" stroke="#17548f" stroke-width="1.2" stroke-linejoin="miter"/>
<path d="M75.00,301.90L32.73,310.31A43.10,43.10 0 0 1 32.73,293.49Z" fill="url(#dots)" stroke="#17548f" stroke-width="1.2" stroke-linejoin="miter"/>
<path d="M75.00,301.90L47.07,292.42A29.50,29.50 0 0 1 52.82,282.45Z" fill="url(#dots)" stroke="#17548f" stroke-width="1.2" stroke-linejoin="miter"/>
<path d="M75.00,301.90L61.15,286.11A21.00,21.00 0 0 1 68.25,282.01Z" fill="url(#dots)" stroke="#17548f" stroke-width="1.2" stroke-linejoin="miter"/>
<path d="M75.00,301.90L71.10,282.28A20.00,20.00 0 0 1 78.90,282.28Z" fill="url(#dots)" stroke="#17548f" stroke-width="1.2" stroke-linejoin="miter"/>
<path d="M75.00,301.90L81.75,282.01A21.00,21.00 0 0 1 88.85,286.11Z" fill="url(#dots)" stroke="#17548f" stroke-width="1.2" stroke-linejoin="miter"/>
<path d="M75.00,301.90L99.59,280.34A32.70,32.70 0 0 1 105.96,291.39Z" fill="url(#dots)" stroke="#17548f" stroke-width="1.2" stroke-linejoin="miter"/>
<path d="M75.00,301.90L84.66,299.31A10.00,10.00 0 0 1 84.66,304.49Z" fill="url(#hatch)" stroke="#c41c13" stroke-width="0.9" stroke-linejoin="round"/>
<path d="M75.00,301.90L84.66,304.49A10.00,10.00 0 0 1 82.07,308.97Z" fill="url(#hatch)" stroke="#c41c13" stroke-width="0.9" stroke-linejoin="round"/>
<path d="M75.00,301.90L91.97,318.87A24.00,24.00 0 0 1 81.21,325.08Z" fill="url(#hatch)" stroke="#c41c13" stroke-width="0.9" stroke-linejoin="round"/>
<path d="M75.00,301.90L83.59,333.97A33.20,33.20 0 0 1 66.41,333.97Z" fill="url(#hatch)" stroke="#c41c13" stroke-width="0.9" stroke-linejoin="round"/>
<path d="M75.00,301.90L68.79,325.08A24.00,24.00 0 0 1 58.03,318.87Z" fill="url(#hatch)" stroke="#c41c13" stroke-width="0.9" stroke-linejoin="round"/>
<path d="M75.00,301.90L67.93,308.97A10.00,10.00 0 0 1 65.34,304.49Z" fill="url(#hatch)" stroke="#c41c13" stroke-width="0.9" stroke-linejoin="round"/>
<path d="M75.00,301.90L65.34,304.49A10.00,10.00 0 0 1 65.34,299.31Z" fill="url(#hatch)" stroke="#c41c13" stroke-width="0.9" stroke-linejoin="round"/>
<path d="M75.00,301.90L65.34,299.31A10.00,10.00 0 0 1 67.93,294.83Z" fill="url(#hatch)" stroke="#c41c13" stroke-width="0.9" stroke-linejoin="round"/>
<path d="M75.00,301.90L58.74,285.64A23.00,23.00 0 0 1 69.05,279.68Z" fill="url(#hatch)" stroke="#c41c13" stroke-width="0.9" stroke-linejoin="round"/>
<path d="M75.00,301.90L66.07,268.58A34.50,34.50 0 0 1 83.93,268.58Z" fill="url(#hatch)" stroke="#c41c13" stroke-width="0.9" stroke-linejoin="round"/>
<path d="M75.00,301.90L80.95,279.68A23.00,23.00 0 0 1 91.26,285.64Z" fill="url(#hatch)" stroke="#c41c13" stroke-width="0.9" stroke-linejoin="round"/>
<path d="M75.00,301.90L82.07,294.83A10.00,10.00 0 0 1 84.66,299.31Z" fill="url(#hatch)" stroke="#c41c13" stroke-width="0.9" stroke-linejoin="round"/>
<path d="M79.41,301.02L116.39,293.67A42.20,42.20 0 0 1 116.39,310.13L79.41,302.78" fill="none" stroke="#17548f" stroke-width="1.1" stroke-opacity="0.42"/>
<path d="M79.26,303.35L105.78,312.35A32.50,32.50 0 0 1 99.43,323.33L78.38,304.87" fill="none" stroke="#17548f" stroke-width="1.1" stroke-opacity="0.42"/>
<path d="M77.97,305.28L88.85,317.69A21.00,21.00 0 0 1 81.75,321.79L76.45,306.16" fill="none" stroke="#17548f" stroke-width="1.1" stroke-opacity="0.42"/>
<path d="M75.88,306.31L78.90,321.52A20.00,20.00 0 0 1 71.10,321.52L74.12,306.31" fill="none" stroke="#17548f" stroke-width="1.1" stroke-opacity="0.42"/>
<path d="M73.55,306.16L68.25,321.79A21.00,21.00 0 0 1 61.15,317.69L72.03,305.28" fill="none" stroke="#17548f" stroke-width="1.1" stroke-opacity="0.42"/>
<path d="M71.62,304.87L52.44,321.68A30.00,30.00 0 0 1 46.59,311.54L70.74,303.35" fill="none" stroke="#17548f" stroke-width="1.1" stroke-opacity="0.42"/>
<path d="M70.59,302.78L32.73,310.31A43.10,43.10 0 0 1 32.73,293.49L70.59,301.02" fill="none" stroke="#17548f" stroke-width="1.1" stroke-opacity="0.42"/>
<path d="M70.74,300.45L47.07,292.42A29.50,29.50 0 0 1 52.82,282.45L71.62,298.93" fill="none" stroke="#17548f" stroke-width="1.1" stroke-opacity="0.42"/>
<path d="M72.03,298.52L61.15,286.11A21.00,21.00 0 0 1 68.25,282.01L73.55,297.64" fill="none" stroke="#17548f" stroke-width="1.1" stroke-opacity="0.42"/>
<path d="M74.12,297.49L71.10,282.28A20.00,20.00 0 0 1 78.90,282.28L75.88,297.49" fill="none" stroke="#17548f" stroke-width="1.1" stroke-opacity="0.42"/>
<path d="M76.45,297.64L81.75,282.01A21.00,21.00 0 0 1 88.85,286.11L77.97,298.52" fill="none" stroke="#17548f" stroke-width="1.1" stroke-opacity="0.42"/>
<path d="M78.38,298.93L99.59,280.34A32.70,32.70 0 0 1 105.96,291.39L79.26,300.45" fill="none" stroke="#17548f" stroke-width="1.1" stroke-opacity="0.42"/>
<circle cx="75" cy="301.9" r="55" fill="none" stroke="#000" stroke-width="1.2"/>
<line x1="130.00" y1="301.90" x2="127.00" y2="301.90" stroke="#000" stroke-width="1"/>
<line x1="122.63" y1="329.40" x2="120.03" y2="327.90" stroke="#000" stroke-width="1"/>
<line x1="102.50" y1="349.53" x2="101.00" y2="346.93" stroke="#000" stroke-width="1"/>
<line x1="75.00" y1="356.90" x2="75.00" y2="353.90" stroke="#000" stroke-width="1"/>
<line x1="47.50" y1="349.53" x2="49.00" y2="346.93" stroke="#000" stroke-width="1"/>
<line x1="27.37" y1="329.40" x2="29.97" y2="327.90" stroke="#000" stroke-width="1"/>
<line x1="20.00" y1="301.90" x2="23.00" y2="301.90" stroke="#000" stroke-width="1"/>
<line x1="27.37" y1="274.40" x2="29.97" y2="275.90" stroke="#000" stroke-width="1"/>
<line x1="47.50" y1="254.27" x2="49.00" y2="256.87" stroke="#000" stroke-width="1"/>
<line x1="75.00" y1="246.90" x2="75.00" y2="249.90" stroke="#000" stroke-width="1"/>
<line x1="102.50" y1="254.27" x2="101.00" y2="256.87" stroke="#000" stroke-width="1"/>
<line x1="122.63" y1="274.40" x2="120.03" y2="275.90" stroke="#000" stroke-width="1"/>
</g>
<text x="75.30" y="242.00" text-anchor="middle">270</text>
<text x="40.20" y="250.50" text-anchor="middle">240</text>
<text x="110.90" y="250.50" text-anchor="middle">300</text>
<text x="18.50" y="271.10" text-anchor="middle">210</text>
<text x="132.10" y="271.10" text-anchor="middle">330</text>
<text x="10.60" y="304.90" text-anchor="middle">180</text>
<text x="135.40" y="304.90" text-anchor="middle">0</text>
<text x="18.50" y="339.70" text-anchor="middle">150</text>
<text x="129.80" y="340.10" text-anchor="middle">30</text>
<text x="39.80" y="361.10" text-anchor="middle">120</text>
<text x="108.40" y="361.10" text-anchor="middle">60</text>
<text x="75.30" y="368.20" text-anchor="middle">90</text>
<line x1="141.3" y1="246.60" x2="141.3" y2="358.40" stroke="#000" stroke-width="1.1"/>
<line x1="141.3" y1="247.10" x2="143.70000000000002" y2="247.10" stroke="#000" stroke-width="1"/>
<text x="146.50" y="250.00">100</text>
<line x1="141.3" y1="260.95" x2="145.60000000000002" y2="260.95" stroke="#000" stroke-width="1"/>
<line x1="141.3" y1="274.80" x2="143.70000000000002" y2="274.80" stroke="#000" stroke-width="1"/>
<text x="146.50" y="277.70">50</text>
<line x1="141.3" y1="288.65" x2="145.60000000000002" y2="288.65" stroke="#000" stroke-width="1"/>
<line x1="141.3" y1="302.50" x2="143.70000000000002" y2="302.50" stroke="#000" stroke-width="1"/>
<text x="146.50" y="305.40">0</text>
<line x1="141.3" y1="316.35" x2="145.60000000000002" y2="316.35" stroke="#000" stroke-width="1"/>
<line x1="141.3" y1="330.20" x2="143.70000000000002" y2="330.20" stroke="#000" stroke-width="1"/>
<text x="146.50" y="333.10">50</text>
<line x1="141.3" y1="344.05" x2="145.60000000000002" y2="344.05" stroke="#000" stroke-width="1"/>
<line x1="141.3" y1="357.90" x2="143.70000000000002" y2="357.90" stroke="#000" stroke-width="1"/>
<text x="146.50" y="360.80">100</text>
<line x1="19.01" y1="385.1" x2="131.00" y2="385.1" stroke="#000" stroke-width="1"/>
<line x1="19.51" y1="385.1" x2="19.51" y2="381.70000000000005" stroke="#000" stroke-width="0.95"/>
<text x="19.51" y="380.10" text-anchor="middle">10%</text>
<line x1="33.38" y1="385.1" x2="33.38" y2="382.6" stroke="#000" stroke-width="0.95"/>
<line x1="47.25" y1="385.1" x2="47.25" y2="381.70000000000005" stroke="#000" stroke-width="0.95"/>
<text x="47.25" y="380.10" text-anchor="middle">5%</text>
<line x1="61.13" y1="385.1" x2="61.13" y2="382.6" stroke="#000" stroke-width="0.95"/>
<line x1="75.00" y1="385.1" x2="75.00" y2="381.70000000000005" stroke="#000" stroke-width="0.95"/>
<text x="75.00" y="380.10" text-anchor="middle">0%</text>
<line x1="88.87" y1="385.1" x2="88.87" y2="382.6" stroke="#000" stroke-width="0.95"/>
<line x1="102.75" y1="385.1" x2="102.75" y2="381.70000000000005" stroke="#000" stroke-width="0.95"/>
<text x="102.75" y="380.10" text-anchor="middle">5%</text>
<line x1="116.62" y1="385.1" x2="116.62" y2="382.6" stroke="#000" stroke-width="0.95"/>
<line x1="130.50" y1="385.1" x2="130.50" y2="381.70000000000005" stroke="#000" stroke-width="0.95"/>
<text x="130.50" y="380.10" text-anchor="middle">10%</text>
<text x="128.00" y="396.80" text-anchor="end" style="font-size:8.3px">Frequency (%)</text>
<g transform="translate(240.3 0) scale(1.008 1) translate(-240.3 0)">
<line x1="240.3" y1="302.6" x2="295.30" y2="302.60" stroke="#c0c0c0" stroke-width="0.9"/>
<line x1="240.3" y1="302.6" x2="287.93" y2="330.10" stroke="#c0c0c0" stroke-width="0.9"/>
<line x1="240.3" y1="302.6" x2="267.80" y2="350.23" stroke="#c0c0c0" stroke-width="0.9"/>
<line x1="240.3" y1="302.6" x2="240.30" y2="357.60" stroke="#c0c0c0" stroke-width="0.9"/>
<line x1="240.3" y1="302.6" x2="212.80" y2="350.23" stroke="#c0c0c0" stroke-width="0.9"/>
<line x1="240.3" y1="302.6" x2="192.67" y2="330.10" stroke="#c0c0c0" stroke-width="0.9"/>
<line x1="240.3" y1="302.6" x2="185.30" y2="302.60" stroke="#c0c0c0" stroke-width="0.9"/>
<line x1="240.3" y1="302.6" x2="192.67" y2="275.10" stroke="#c0c0c0" stroke-width="0.9"/>
<line x1="240.3" y1="302.6" x2="212.80" y2="254.97" stroke="#c0c0c0" stroke-width="0.9"/>
<line x1="240.3" y1="302.6" x2="240.30" y2="247.60" stroke="#c0c0c0" stroke-width="0.9"/>
<line x1="240.3" y1="302.6" x2="267.80" y2="254.97" stroke="#c0c0c0" stroke-width="0.9"/>
<line x1="240.3" y1="302.6" x2="287.93" y2="275.10" stroke="#c0c0c0" stroke-width="0.9"/>
<circle cx="240.3" cy="302.6" r="27.50" fill="none" stroke="#c0c0c0" stroke-width="0.9"/>
<circle cx="240.3" cy="302.6" r="13.75" fill="none" stroke="#8a8a8a" stroke-width="0.75" stroke-dasharray="1.3 1.5"/>
<circle cx="240.3" cy="302.6" r="41.25" fill="none" stroke="#8a8a8a" stroke-width="0.75" stroke-dasharray="1.3 1.5"/>
<path d="M240.30,302.60L274.04,295.89A34.40,34.40 0 0 1 274.04,309.31Z" fill="url(#dots)" stroke="#17548f" stroke-width="1.2" stroke-linejoin="miter"/>
<path d="M240.30,302.60L268.99,312.34A30.30,30.30 0 0 1 263.08,322.58Z" fill="url(#dots)" stroke="#17548f" stroke-width="1.2" stroke-linejoin="miter"/>
<path d="M240.30,302.60L254.81,319.14A22.00,22.00 0 0 1 247.37,323.43Z" fill="url(#dots)" stroke="#17548f" stroke-width="1.2" stroke-linejoin="miter"/>
<path d="M240.30,302.60L243.81,320.25A18.00,18.00 0 0 1 236.79,320.25Z" fill="url(#dots)" stroke="#17548f" stroke-width="1.2" stroke-linejoin="miter"/>
<path d="M240.30,302.60L233.23,323.43A22.00,22.00 0 0 1 225.79,319.14Z" fill="url(#dots)" stroke="#17548f" stroke-width="1.2" stroke-linejoin="miter"/>
<path d="M240.30,302.60L217.67,322.45A30.10,30.10 0 0 1 211.80,312.28Z" fill="url(#dots)" stroke="#17548f" stroke-width="1.2" stroke-linejoin="miter"/>
<path d="M240.30,302.60L203.62,309.90A37.40,37.40 0 0 1 203.62,295.30Z" fill="url(#dots)" stroke="#17548f" stroke-width="1.2" stroke-linejoin="miter"/>
<path d="M240.30,302.60L212.84,293.28A29.00,29.00 0 0 1 218.50,283.48Z" fill="url(#dots)" stroke="#17548f" stroke-width="1.2" stroke-linejoin="miter"/>
<path d="M240.30,302.60L223.62,283.58A25.30,25.30 0 0 1 232.17,278.64Z" fill="url(#dots)" stroke="#17548f" stroke-width="1.2" stroke-linejoin="miter"/>
<path d="M240.30,302.60L236.79,284.95A18.00,18.00 0 0 1 243.81,284.95Z" fill="url(#dots)" stroke="#17548f" stroke-width="1.2" stroke-linejoin="miter"/>
<path d="M240.30,302.60L248.40,278.74A25.20,25.20 0 0 1 256.92,283.65Z" fill="url(#dots)" stroke="#17548f" stroke-width="1.2" stroke-linejoin="miter"/>
<path d="M240.30,302.60L263.98,281.83A31.50,31.50 0 0 1 270.13,292.47Z" fill="url(#dots)" stroke="#17548f" stroke-width="1.2" stroke-linejoin="miter"/>
<path d="M240.30,302.60L248.03,300.53A8.00,8.00 0 0 1 248.03,304.67Z" fill="url(#hatch)" stroke="#c41c13" stroke-width="0.9" stroke-linejoin="round"/>
<path d="M240.30,302.60L248.03,304.67A8.00,8.00 0 0 1 245.96,308.26Z" fill="url(#hatch)" stroke="#c41c13" stroke-width="0.9" stroke-linejoin="round"/>
<path d="M240.30,302.60L257.98,320.28A25.00,25.00 0 0 1 246.77,326.75Z" fill="url(#hatch)" stroke="#c41c13" stroke-width="0.9" stroke-linejoin="round"/>
<path d="M240.30,302.60L249.49,336.89A35.50,35.50 0 0 1 231.11,336.89Z" fill="url(#hatch)" stroke="#c41c13" stroke-width="0.9" stroke-linejoin="round"/>
<path d="M240.30,302.60L233.83,326.75A25.00,25.00 0 0 1 222.62,320.28Z" fill="url(#hatch)" stroke="#c41c13" stroke-width="0.9" stroke-linejoin="round"/>
<path d="M240.30,302.60L234.64,308.26A8.00,8.00 0 0 1 232.57,304.67Z" fill="url(#hatch)" stroke="#c41c13" stroke-width="0.9" stroke-linejoin="round"/>
<path d="M240.30,302.60L232.57,304.67A8.00,8.00 0 0 1 232.57,300.53Z" fill="url(#hatch)" stroke="#c41c13" stroke-width="0.9" stroke-linejoin="round"/>
<path d="M240.30,302.60L232.57,300.53A8.00,8.00 0 0 1 234.64,296.94Z" fill="url(#hatch)" stroke="#c41c13" stroke-width="0.9" stroke-linejoin="round"/>
<path d="M240.30,302.60L225.45,287.75A21.00,21.00 0 0 1 234.86,282.32Z" fill="url(#hatch)" stroke="#c41c13" stroke-width="0.9" stroke-linejoin="round"/>
<path d="M240.30,302.60L230.59,266.38A37.50,37.50 0 0 1 250.01,266.38Z" fill="url(#hatch)" stroke="#c41c13" stroke-width="0.9" stroke-linejoin="round"/>
<path d="M240.30,302.60L245.74,282.32A21.00,21.00 0 0 1 255.15,287.75Z" fill="url(#hatch)" stroke="#c41c13" stroke-width="0.9" stroke-linejoin="round"/>
<path d="M240.30,302.60L245.96,296.94A8.00,8.00 0 0 1 248.03,300.53Z" fill="url(#hatch)" stroke="#c41c13" stroke-width="0.9" stroke-linejoin="round"/>
<path d="M244.71,301.72L274.04,295.89A34.40,34.40 0 0 1 274.04,309.31L244.71,303.48" fill="none" stroke="#17548f" stroke-width="1.1" stroke-opacity="0.42"/>
<path d="M244.56,304.05L268.99,312.34A30.30,30.30 0 0 1 263.08,322.58L243.68,305.57" fill="none" stroke="#17548f" stroke-width="1.1" stroke-opacity="0.42"/>
<path d="M243.27,305.98L254.81,319.14A22.00,22.00 0 0 1 247.37,323.43L241.75,306.86" fill="none" stroke="#17548f" stroke-width="1.1" stroke-opacity="0.42"/>
<path d="M241.18,307.01L243.81,320.25A18.00,18.00 0 0 1 236.79,320.25L239.42,307.01" fill="none" stroke="#17548f" stroke-width="1.1" stroke-opacity="0.42"/>
<path d="M238.85,306.86L233.23,323.43A22.00,22.00 0 0 1 225.79,319.14L237.33,305.98" fill="none" stroke="#17548f" stroke-width="1.1" stroke-opacity="0.42"/>
<path d="M236.92,305.57L217.67,322.45A30.10,30.10 0 0 1 211.80,312.28L236.04,304.05" fill="none" stroke="#17548f" stroke-width="1.1" stroke-opacity="0.42"/>
<path d="M235.89,303.48L203.62,309.90A37.40,37.40 0 0 1 203.62,295.30L235.89,301.72" fill="none" stroke="#17548f" stroke-width="1.1" stroke-opacity="0.42"/>
<path d="M236.04,301.15L212.84,293.28A29.00,29.00 0 0 1 218.50,283.48L236.92,299.63" fill="none" stroke="#17548f" stroke-width="1.1" stroke-opacity="0.42"/>
<path d="M237.33,299.22L223.62,283.58A25.30,25.30 0 0 1 232.17,278.64L238.85,298.34" fill="none" stroke="#17548f" stroke-width="1.1" stroke-opacity="0.42"/>
<path d="M239.42,298.19L236.79,284.95A18.00,18.00 0 0 1 243.81,284.95L241.18,298.19" fill="none" stroke="#17548f" stroke-width="1.1" stroke-opacity="0.42"/>
<path d="M241.75,298.34L248.40,278.74A25.20,25.20 0 0 1 256.92,283.65L243.27,299.22" fill="none" stroke="#17548f" stroke-width="1.1" stroke-opacity="0.42"/>
<path d="M243.68,299.63L263.98,281.83A31.50,31.50 0 0 1 270.13,292.47L244.56,301.15" fill="none" stroke="#17548f" stroke-width="1.1" stroke-opacity="0.42"/>
<path d="M240.30,302.60L241.43,304.25A2.00,2.00 0 0 1 241.16,304.41Z" fill="#fcdc8c" stroke="#fcdc8c" stroke-width="0.3"/>
<path d="M240.30,302.60L241.08,312.57A10.00,10.00 0 0 1 239.52,312.57Z" fill="#fcdc8c" stroke="#fcdc8c" stroke-width="0.3"/>
<path d="M240.30,302.60L239.44,304.41A2.00,2.00 0 0 1 239.17,304.25Z" fill="#fcdc8c" stroke="#fcdc8c" stroke-width="0.3"/>
<path d="M240.30,302.60L239.17,300.95A2.00,2.00 0 0 1 239.44,300.79Z" fill="#fcdc8c" stroke="#fcdc8c" stroke-width="0.3"/>
<path d="M240.30,302.60L239.32,290.14A12.50,12.50 0 0 1 241.28,290.14Z" fill="#fcdc8c" stroke="#fcdc8c" stroke-width="0.3"/>
<path d="M240.30,302.60L241.16,300.79A2.00,2.00 0 0 1 241.43,300.95Z" fill="#fcdc8c" stroke="#fcdc8c" stroke-width="0.3"/>
<circle cx="240.3" cy="302.6" r="55" fill="none" stroke="#000" stroke-width="1.2"/>
<line x1="295.30" y1="302.60" x2="292.30" y2="302.60" stroke="#000" stroke-width="1"/>
<line x1="287.93" y1="330.10" x2="285.33" y2="328.60" stroke="#000" stroke-width="1"/>
<line x1="267.80" y1="350.23" x2="266.30" y2="347.63" stroke="#000" stroke-width="1"/>
<line x1="240.30" y1="357.60" x2="240.30" y2="354.60" stroke="#000" stroke-width="1"/>
<line x1="212.80" y1="350.23" x2="214.30" y2="347.63" stroke="#000" stroke-width="1"/>
<line x1="192.67" y1="330.10" x2="195.27" y2="328.60" stroke="#000" stroke-width="1"/>
<line x1="185.30" y1="302.60" x2="188.30" y2="302.60" stroke="#000" stroke-width="1"/>
<line x1="192.67" y1="275.10" x2="195.27" y2="276.60" stroke="#000" stroke-width="1"/>
<line x1="212.80" y1="254.97" x2="214.30" y2="257.57" stroke="#000" stroke-width="1"/>
<line x1="240.30" y1="247.60" x2="240.30" y2="250.60" stroke="#000" stroke-width="1"/>
<line x1="267.80" y1="254.97" x2="266.30" y2="257.57" stroke="#000" stroke-width="1"/>
<line x1="287.93" y1="275.10" x2="285.33" y2="276.60" stroke="#000" stroke-width="1"/>
</g>
<text x="240.60" y="242.70" text-anchor="middle">270</text>
<text x="205.50" y="251.20" text-anchor="middle">240</text>
<text x="276.20" y="251.20" text-anchor="middle">300</text>
<text x="183.80" y="271.80" text-anchor="middle">210</text>
<text x="297.40" y="271.80" text-anchor="middle">330</text>
<text x="175.90" y="305.60" text-anchor="middle">180</text>
<text x="300.70" y="305.60" text-anchor="middle">0</text>
<text x="183.80" y="340.40" text-anchor="middle">150</text>
<text x="295.10" y="340.80" text-anchor="middle">30</text>
<text x="205.10" y="361.90" text-anchor="middle">120</text>
<text x="273.70" y="361.90" text-anchor="middle">60</text>
<text x="240.60" y="368.80" text-anchor="middle">90</text>
<line x1="306.5" y1="246.70" x2="306.5" y2="358.50" stroke="#000" stroke-width="1.1"/>
<line x1="306.5" y1="247.20" x2="308.9" y2="247.20" stroke="#000" stroke-width="1"/>
<text x="311.70" y="250.10">100</text>
<line x1="306.5" y1="261.05" x2="310.8" y2="261.05" stroke="#000" stroke-width="1"/>
<line x1="306.5" y1="274.90" x2="308.9" y2="274.90" stroke="#000" stroke-width="1"/>
<text x="311.70" y="277.80">50</text>
<line x1="306.5" y1="288.75" x2="310.8" y2="288.75" stroke="#000" stroke-width="1"/>
<line x1="306.5" y1="302.60" x2="308.9" y2="302.60" stroke="#000" stroke-width="1"/>
<text x="311.70" y="305.50">0</text>
<line x1="306.5" y1="316.45" x2="310.8" y2="316.45" stroke="#000" stroke-width="1"/>
<line x1="306.5" y1="330.30" x2="308.9" y2="330.30" stroke="#000" stroke-width="1"/>
<text x="311.70" y="333.20">50</text>
<line x1="306.5" y1="344.15" x2="310.8" y2="344.15" stroke="#000" stroke-width="1"/>
<line x1="306.5" y1="358.00" x2="308.9" y2="358.00" stroke="#000" stroke-width="1"/>
<text x="311.70" y="360.90">100</text>
<line x1="184.31" y1="385.3" x2="296.30" y2="385.3" stroke="#000" stroke-width="1"/>
<line x1="184.81" y1="385.3" x2="184.81" y2="381.90000000000003" stroke="#000" stroke-width="0.95"/>
<text x="184.81" y="380.30" text-anchor="middle">10%</text>
<line x1="198.68" y1="385.3" x2="198.68" y2="382.8" stroke="#000" stroke-width="0.95"/>
<line x1="212.55" y1="385.3" x2="212.55" y2="381.90000000000003" stroke="#000" stroke-width="0.95"/>
<text x="212.55" y="380.30" text-anchor="middle">5%</text>
<line x1="226.43" y1="385.3" x2="226.43" y2="382.8" stroke="#000" stroke-width="0.95"/>
<line x1="240.30" y1="385.3" x2="240.30" y2="381.90000000000003" stroke="#000" stroke-width="0.95"/>
<text x="240.30" y="380.30" text-anchor="middle">0%</text>
<line x1="254.17" y1="385.3" x2="254.17" y2="382.8" stroke="#000" stroke-width="0.95"/>
<line x1="268.05" y1="385.3" x2="268.05" y2="381.90000000000003" stroke="#000" stroke-width="0.95"/>
<text x="268.05" y="380.30" text-anchor="middle">5%</text>
<line x1="281.92" y1="385.3" x2="281.92" y2="382.8" stroke="#000" stroke-width="0.95"/>
<line x1="295.80" y1="385.3" x2="295.80" y2="381.90000000000003" stroke="#000" stroke-width="0.95"/>
<text x="295.80" y="380.30" text-anchor="middle">10%</text>
<text x="293.30" y="397.00" text-anchor="end" style="font-size:8.3px">Frequency (%)</text>
<g style="font-size:7.5px">
<g transform="translate(402 0) scale(1.008 1) translate(-402 0)">
<line x1="402" y1="302.4" x2="454.70" y2="302.40" stroke="#c0c0c0" stroke-width="0.9"/>
<line x1="402" y1="302.4" x2="447.64" y2="328.75" stroke="#c0c0c0" stroke-width="0.9"/>
<line x1="402" y1="302.4" x2="428.35" y2="348.04" stroke="#c0c0c0" stroke-width="0.9"/>
<line x1="402" y1="302.4" x2="402.00" y2="355.10" stroke="#c0c0c0" stroke-width="0.9"/>
<line x1="402" y1="302.4" x2="375.65" y2="348.04" stroke="#c0c0c0" stroke-width="0.9"/>
<line x1="402" y1="302.4" x2="356.36" y2="328.75" stroke="#c0c0c0" stroke-width="0.9"/>
<line x1="402" y1="302.4" x2="349.30" y2="302.40" stroke="#c0c0c0" stroke-width="0.9"/>
<line x1="402" y1="302.4" x2="356.36" y2="276.05" stroke="#c0c0c0" stroke-width="0.9"/>
<line x1="402" y1="302.4" x2="375.65" y2="256.76" stroke="#c0c0c0" stroke-width="0.9"/>
<line x1="402" y1="302.4" x2="402.00" y2="249.70" stroke="#c0c0c0" stroke-width="0.9"/>
<line x1="402" y1="302.4" x2="428.35" y2="256.76" stroke="#c0c0c0" stroke-width="0.9"/>
<line x1="402" y1="302.4" x2="447.64" y2="276.05" stroke="#c0c0c0" stroke-width="0.9"/>
<circle cx="402" cy="302.4" r="26.35" fill="none" stroke="#c0c0c0" stroke-width="0.9"/>
<circle cx="402" cy="302.4" r="13.18" fill="none" stroke="#8a8a8a" stroke-width="0.75" stroke-dasharray="1.3 1.5"/>
<circle cx="402" cy="302.4" r="39.53" fill="none" stroke="#8a8a8a" stroke-width="0.75" stroke-dasharray="1.3 1.5"/>
<path d="M402.00,302.40L430.64,296.70A29.20,29.20 0 0 1 430.64,308.10Z" fill="url(#dots)" stroke="#17548f" stroke-width="1.2" stroke-linejoin="miter"/>
<path d="M402.00,302.40L429.84,311.85A29.40,29.40 0 0 1 424.10,321.78Z" fill="url(#dots)" stroke="#17548f" stroke-width="1.2" stroke-linejoin="miter"/>
<path d="M402.00,302.40L421.45,324.58A29.50,29.50 0 0 1 411.48,330.33Z" fill="url(#dots)" stroke="#17548f" stroke-width="1.2" stroke-linejoin="miter"/>
<path d="M402.00,302.40L406.88,326.92A25.00,25.00 0 0 1 397.12,326.92Z" fill="url(#dots)" stroke="#17548f" stroke-width="1.2" stroke-linejoin="miter"/>
<path d="M402.00,302.40L392.87,329.29A28.40,28.40 0 0 1 383.27,323.75Z" fill="url(#dots)" stroke="#17548f" stroke-width="1.2" stroke-linejoin="miter"/>
<path d="M402.00,302.40L381.70,320.20A27.00,27.00 0 0 1 376.43,311.08Z" fill="url(#dots)" stroke="#17548f" stroke-width="1.2" stroke-linejoin="miter"/>
<path d="M402.00,302.40L374.73,307.82A27.80,27.80 0 0 1 374.73,296.98Z" fill="url(#dots)" stroke="#17548f" stroke-width="1.2" stroke-linejoin="miter"/>
<path d="M402.00,302.40L375.49,293.40A28.00,28.00 0 0 1 380.95,283.94Z" fill="url(#dots)" stroke="#17548f" stroke-width="1.2" stroke-linejoin="miter"/>
<path d="M402.00,302.40L383.21,280.97A28.50,28.50 0 0 1 392.84,275.41Z" fill="url(#dots)" stroke="#17548f" stroke-width="1.2" stroke-linejoin="miter"/>
<path d="M402.00,302.40L397.12,277.88A25.00,25.00 0 0 1 406.88,277.88Z" fill="url(#dots)" stroke="#17548f" stroke-width="1.2" stroke-linejoin="miter"/>
<path d="M402.00,302.40L411.55,274.28A29.70,29.70 0 0 1 421.58,280.07Z" fill="url(#dots)" stroke="#17548f" stroke-width="1.2" stroke-linejoin="miter"/>
<path d="M402.00,302.40L425.31,281.96A31.00,31.00 0 0 1 431.35,292.44Z" fill="url(#dots)" stroke="#17548f" stroke-width="1.2" stroke-linejoin="miter"/>
<path d="M402.00,302.40L409.73,300.33A8.00,8.00 0 0 1 409.73,304.47Z" fill="url(#hatch)" stroke="#c41c13" stroke-width="0.9" stroke-linejoin="round"/>
<path d="M402.00,302.40L409.73,304.47A8.00,8.00 0 0 1 407.66,308.06Z" fill="url(#hatch)" stroke="#c41c13" stroke-width="0.9" stroke-linejoin="round"/>
<path d="M402.00,302.40L418.26,318.66A23.00,23.00 0 0 1 407.95,324.62Z" fill="url(#hatch)" stroke="#c41c13" stroke-width="0.9" stroke-linejoin="round"/>
<path d="M402.00,302.40L410.10,332.63A31.30,31.30 0 0 1 393.90,332.63Z" fill="url(#hatch)" stroke="#c41c13" stroke-width="0.9" stroke-linejoin="round"/>
<path d="M402.00,302.40L396.10,324.42A22.80,22.80 0 0 1 385.88,318.52Z" fill="url(#hatch)" stroke="#c41c13" stroke-width="0.9" stroke-linejoin="round"/>
<path d="M402.00,302.40L396.34,308.06A8.00,8.00 0 0 1 394.27,304.47Z" fill="url(#hatch)" stroke="#c41c13" stroke-width="0.9" stroke-linejoin="round"/>
<path d="M402.00,302.40L394.27,304.47A8.00,8.00 0 0 1 394.27,300.33Z" fill="url(#hatch)" stroke="#c41c13" stroke-width="0.9" stroke-linejoin="round"/>
<path d="M402.00,302.40L394.27,300.33A8.00,8.00 0 0 1 396.34,296.74Z" fill="url(#hatch)" stroke="#c41c13" stroke-width="0.9" stroke-linejoin="round"/>
<path d="M402.00,302.40L387.50,287.90A20.50,20.50 0 0 1 396.69,282.60Z" fill="url(#hatch)" stroke="#c41c13" stroke-width="0.9" stroke-linejoin="round"/>
<path d="M402.00,302.40L394.11,272.94A30.50,30.50 0 0 1 409.89,272.94Z" fill="url(#hatch)" stroke="#c41c13" stroke-width="0.9" stroke-linejoin="round"/>
<path d="M402.00,302.40L407.36,282.41A20.70,20.70 0 0 1 416.64,287.76Z" fill="url(#hatch)" stroke="#c41c13" stroke-width="0.9" stroke-linejoin="round"/>
<path d="M402.00,302.40L407.66,296.74A8.00,8.00 0 0 1 409.73,300.33Z" fill="url(#hatch)" stroke="#c41c13" stroke-width="0.9" stroke-linejoin="round"/>
<path d="M406.41,301.52L430.64,296.70A29.20,29.20 0 0 1 430.64,308.10L406.41,303.28" fill="none" stroke="#17548f" stroke-width="1.1" stroke-opacity="0.42"/>
<path d="M406.26,303.85L429.84,311.85A29.40,29.40 0 0 1 424.10,321.78L405.38,305.37" fill="none" stroke="#17548f" stroke-width="1.1" stroke-opacity="0.42"/>
<path d="M404.97,305.78L421.45,324.58A29.50,29.50 0 0 1 411.48,330.33L403.45,306.66" fill="none" stroke="#17548f" stroke-width="1.1" stroke-opacity="0.42"/>
<path d="M402.88,306.81L406.88,326.92A25.00,25.00 0 0 1 397.12,326.92L401.12,306.81" fill="none" stroke="#17548f" stroke-width="1.1" stroke-opacity="0.42"/>
<path d="M400.55,306.66L392.87,329.29A28.40,28.40 0 0 1 383.27,323.75L399.03,305.78" fill="none" stroke="#17548f" stroke-width="1.1" stroke-opacity="0.42"/>
<path d="M398.62,305.37L381.70,320.20A27.00,27.00 0 0 1 376.43,311.08L397.74,303.85" fill="none" stroke="#17548f" stroke-width="1.1" stroke-opacity="0.42"/>
<path d="M397.59,303.28L374.73,307.82A27.80,27.80 0 0 1 374.73,296.98L397.59,301.52" fill="none" stroke="#17548f" stroke-width="1.1" stroke-opacity="0.42"/>
<path d="M397.74,300.95L375.49,293.40A28.00,28.00 0 0 1 380.95,283.94L398.62,299.43" fill="none" stroke="#17548f" stroke-width="1.1" stroke-opacity="0.42"/>
<path d="M399.03,299.02L383.21,280.97A28.50,28.50 0 0 1 392.84,275.41L400.55,298.14" fill="none" stroke="#17548f" stroke-width="1.1" stroke-opacity="0.42"/>
<path d="M401.12,297.99L397.12,277.88A25.00,25.00 0 0 1 406.88,277.88L402.88,297.99" fill="none" stroke="#17548f" stroke-width="1.1" stroke-opacity="0.42"/>
<path d="M403.45,298.14L411.55,274.28A29.70,29.70 0 0 1 421.58,280.07L404.97,299.02" fill="none" stroke="#17548f" stroke-width="1.1" stroke-opacity="0.42"/>
<path d="M405.38,299.43L425.31,281.96A31.00,31.00 0 0 1 431.35,292.44L406.26,300.95" fill="none" stroke="#17548f" stroke-width="1.1" stroke-opacity="0.42"/>
<path d="M402.00,302.40L405.97,301.91A4.00,4.00 0 0 1 405.97,302.89Z" fill="#fcdc8c" stroke="#fcdc8c" stroke-width="0.3"/>
<path d="M402.00,302.40L405.68,303.96A4.00,4.00 0 0 1 405.19,304.81Z" fill="#fcdc8c" stroke="#fcdc8c" stroke-width="0.3"/>
<path d="M402.00,302.40L406.83,308.78A8.00,8.00 0 0 1 405.11,309.77Z" fill="#fcdc8c" stroke="#fcdc8c" stroke-width="0.3"/>
<path d="M402.00,302.40L406.61,339.41A37.30,37.30 0 0 1 397.39,339.41Z" fill="#fcdc8c" stroke="#fcdc8c" stroke-width="0.3"/>
<path d="M402.00,302.40L398.89,309.77A8.00,8.00 0 0 1 397.17,308.78Z" fill="#fcdc8c" stroke="#fcdc8c" stroke-width="0.3"/>
<path d="M402.00,302.40L398.81,304.81A4.00,4.00 0 0 1 398.32,303.96Z" fill="#fcdc8c" stroke="#fcdc8c" stroke-width="0.3"/>
<path d="M402.00,302.40L398.03,302.89A4.00,4.00 0 0 1 398.03,301.91Z" fill="#fcdc8c" stroke="#fcdc8c" stroke-width="0.3"/>
<path d="M402.00,302.40L398.32,300.84A4.00,4.00 0 0 1 398.81,299.99Z" fill="#fcdc8c" stroke="#fcdc8c" stroke-width="0.3"/>
<path d="M402.00,302.40L397.17,296.02A8.00,8.00 0 0 1 398.89,295.03Z" fill="#fcdc8c" stroke="#fcdc8c" stroke-width="0.3"/>
<path d="M402.00,302.40L396.46,257.94A44.80,44.80 0 0 1 407.54,257.94Z" fill="#fcdc8c" stroke="#fcdc8c" stroke-width="0.3"/>
<path d="M402.00,302.40L405.11,295.03A8.00,8.00 0 0 1 406.83,296.02Z" fill="#fcdc8c" stroke="#fcdc8c" stroke-width="0.3"/>
<path d="M402.00,302.40L405.19,299.99A4.00,4.00 0 0 1 405.68,300.84Z" fill="#fcdc8c" stroke="#fcdc8c" stroke-width="0.3"/>
<circle cx="402" cy="302.4" r="52.7" fill="none" stroke="#000" stroke-width="1.2"/>
<line x1="454.70" y1="302.40" x2="451.70" y2="302.40" stroke="#000" stroke-width="1"/>
<line x1="447.64" y1="328.75" x2="445.04" y2="327.25" stroke="#000" stroke-width="1"/>
<line x1="428.35" y1="348.04" x2="426.85" y2="345.44" stroke="#000" stroke-width="1"/>
<line x1="402.00" y1="355.10" x2="402.00" y2="352.10" stroke="#000" stroke-width="1"/>
<line x1="375.65" y1="348.04" x2="377.15" y2="345.44" stroke="#000" stroke-width="1"/>
<line x1="356.36" y1="328.75" x2="358.96" y2="327.25" stroke="#000" stroke-width="1"/>
<line x1="349.30" y1="302.40" x2="352.30" y2="302.40" stroke="#000" stroke-width="1"/>
<line x1="356.36" y1="276.05" x2="358.96" y2="277.55" stroke="#000" stroke-width="1"/>
<line x1="375.65" y1="256.76" x2="377.15" y2="259.36" stroke="#000" stroke-width="1"/>
<line x1="402.00" y1="249.70" x2="402.00" y2="252.70" stroke="#000" stroke-width="1"/>
<line x1="428.35" y1="256.76" x2="426.85" y2="259.36" stroke="#000" stroke-width="1"/>
<line x1="447.64" y1="276.05" x2="445.04" y2="277.55" stroke="#000" stroke-width="1"/>
</g>
<text x="402.29" y="245.58" text-anchor="middle">270</text>
<text x="368.57" y="253.67" text-anchor="middle">240</text>
<text x="436.79" y="253.07" text-anchor="middle">300</text>
<text x="347.55" y="273.62" text-anchor="middle">210</text>
<text x="457.32" y="273.22" text-anchor="middle">330</text>
<text x="339.94" y="305.69" text-anchor="middle">180</text>
<text x="460.20" y="305.69" text-anchor="middle">0</text>
<text x="347.75" y="339.04" text-anchor="middle">150</text>
<text x="455.41" y="339.43" text-anchor="middle">30</text>
<text x="368.58" y="358.99" text-anchor="middle">120</text>
<text x="434.89" y="358.99" text-anchor="middle">60</text>
<text x="402.29" y="366.61" text-anchor="middle">90</text>
<line x1="466.4" y1="248.85" x2="466.4" y2="356.65" stroke="#000" stroke-width="1.1"/>
<line x1="466.4" y1="249.35" x2="468.79999999999995" y2="249.35" stroke="#000" stroke-width="1"/>
<text x="470.90" y="252.75">100</text>
<line x1="466.4" y1="262.70" x2="470.7" y2="262.70" stroke="#000" stroke-width="1"/>
<line x1="466.4" y1="276.05" x2="468.79999999999995" y2="276.05" stroke="#000" stroke-width="1"/>
<text x="470.90" y="279.45">50</text>
<line x1="466.4" y1="289.40" x2="470.7" y2="289.40" stroke="#000" stroke-width="1"/>
<line x1="466.4" y1="302.75" x2="468.79999999999995" y2="302.75" stroke="#000" stroke-width="1"/>
<text x="470.90" y="306.15">0</text>
<line x1="466.4" y1="316.10" x2="470.7" y2="316.10" stroke="#000" stroke-width="1"/>
<line x1="466.4" y1="329.45" x2="468.79999999999995" y2="329.45" stroke="#000" stroke-width="1"/>
<text x="470.90" y="332.85">50</text>
<line x1="466.4" y1="342.80" x2="470.7" y2="342.80" stroke="#000" stroke-width="1"/>
<line x1="466.4" y1="356.15" x2="468.79999999999995" y2="356.15" stroke="#000" stroke-width="1"/>
<text x="470.90" y="359.55">100</text>
<line x1="348.20" y1="382.3" x2="456.60" y2="382.3" stroke="#000" stroke-width="1"/>
<line x1="348.70" y1="382.3" x2="348.70" y2="379.6" stroke="#000" stroke-width="0.95"/>
<text x="348.70" y="376.90" text-anchor="middle">10%</text>
<line x1="362.12" y1="382.3" x2="362.12" y2="380.1" stroke="#000" stroke-width="0.95"/>
<line x1="375.55" y1="382.3" x2="375.55" y2="379.6" stroke="#000" stroke-width="0.95"/>
<text x="375.55" y="376.90" text-anchor="middle">5%</text>
<line x1="388.98" y1="382.3" x2="388.98" y2="380.1" stroke="#000" stroke-width="0.95"/>
<line x1="402.40" y1="382.3" x2="402.40" y2="379.6" stroke="#000" stroke-width="0.95"/>
<text x="402.40" y="376.90" text-anchor="middle">0%</text>
<line x1="415.82" y1="382.3" x2="415.82" y2="380.1" stroke="#000" stroke-width="0.95"/>
<line x1="429.25" y1="382.3" x2="429.25" y2="379.6" stroke="#000" stroke-width="0.95"/>
<text x="429.25" y="376.90" text-anchor="middle">5%</text>
<line x1="442.68" y1="382.3" x2="442.68" y2="380.1" stroke="#000" stroke-width="0.95"/>
<line x1="456.10" y1="382.3" x2="456.10" y2="379.6" stroke="#000" stroke-width="0.95"/>
<text x="456.10" y="376.90" text-anchor="middle">10%</text>
<text x="452.70" y="394.00" text-anchor="end" style="font-size:7.9px">Frequency (%)</text>
</g>
<g style="font-size:7.8px">
<rect x="489.4" y="34.6" width="16.7" height="7.0" fill="url(#hatch)" stroke="#c41c13" stroke-width="0.8"/>
<text x="508.6" y="40.80">Strong</text>
<rect x="489.7" y="45.00" width="16.099999999999998" height="7.2" fill="#fff" stroke="#17548f" stroke-width="0.9"/>
<circle cx="496.75" cy="48.80" r="0.45" fill="#17548f"/>
<text x="508.6" y="51.40">Weak</text>
<rect x="489.4" y="55.40" width="16.7" height="7.7" fill="#fcdc8c"/>
<text x="508.6" y="62.00">Break count</text>
</g>
<g style="font-size:7.4px">
<rect x="489.4" y="245.20000000000002" width="16.7" height="7.3" fill="url(#hatch)" stroke="#c41c13" stroke-width="0.8"/>
<text x="508.6" y="251.40">Strong</text>
<rect x="489.7" y="255.60" width="16.099999999999998" height="7.2" fill="#fff" stroke="#17548f" stroke-width="0.9"/>
<circle cx="496.75" cy="259.40" r="0.45" fill="#17548f"/>
<text x="508.6" y="262.00">Weak</text>
<rect x="489.4" y="266.00" width="16.7" height="7.7" fill="#fcdc8c"/>
<text x="508.6" y="272.60">Break count</text>
</g>
<text x="487" y="124.7" style="font-size:7.8px">Break count</text>
<text x="487" y="334.5" style="font-size:7.6px">Break count</text>
<rect x="484" y="44" width="1" height="1.7" fill="#999"/><rect x="483.4" y="147" width="2.2" height="2" fill="#b0b0b0"/>
<rect x="484.2" y="254.2" width="0.9" height="1.6" fill="#b5b5b5"/><rect x="483.8" y="356.2" width="1.2" height="1.2" fill="#aaa"/>
<text x="100.70" y="206.00" text-anchor="end" style="font-size:14.5px"><tspan style="font-size:17px">ε</tspan><tspan style="font-size:10px">z</tspan><tspan style="font-size:14.5px" dx="1.5">=</tspan><tspan style="font-size:14.5px" dx="2.5">2%</tspan></text>
<text x="265.80" y="206.00" text-anchor="end" style="font-size:14.5px"><tspan style="font-size:17px">ε</tspan><tspan style="font-size:10px">z</tspan><tspan style="font-size:14.5px" dx="1.5">=</tspan><tspan style="font-size:14.5px" dx="2.5">6%</tspan></text>
<text x="431.40" y="206.00" text-anchor="end" style="font-size:14.5px"><tspan style="font-size:17px">ε</tspan><tspan style="font-size:10px">z</tspan><tspan style="font-size:14.5px" dx="1.5">=</tspan><tspan style="font-size:14.5px" dx="2.5">18%</tspan></text>
<text x="100.70" y="413.60" text-anchor="end" style="font-size:14.5px"><tspan style="font-size:17px">ε</tspan><tspan style="font-size:10px">z</tspan><tspan style="font-size:14.5px" dx="1.5">=</tspan><tspan style="font-size:14.5px" dx="2.5">2%</tspan></text>
<text x="265.80" y="413.60" text-anchor="end" style="font-size:14.5px"><tspan style="font-size:17px">ε</tspan><tspan style="font-size:10px">z</tspan><tspan style="font-size:14.5px" dx="1.5">=</tspan><tspan style="font-size:14.5px" dx="2.5">6%</tspan></text>
<text x="431.40" y="413.80" text-anchor="end" style="font-size:14.5px"><tspan style="font-size:17px">ε</tspan><tspan style="font-size:10px">z</tspan><tspan style="font-size:14.5px" dx="1.5">=</tspan><tspan style="font-size:14.5px" dx="2.5">18%</tspan></text>
<text x="273.3" y="15.7" text-anchor="middle" style="font-size:13.5px">(<tspan style="font-size:14.5px;font-weight:bold" dx="-0.3">a</tspan><tspan dx="-0.3">)</tspan></text>
<text x="273.3" y="224.4" text-anchor="middle" style="font-size:13.5px">(<tspan style="font-size:14.5px;font-weight:bold" dx="-0.3">b</tspan><tspan dx="-0.3">)</tspan></text>
</svg>
</body></html>
